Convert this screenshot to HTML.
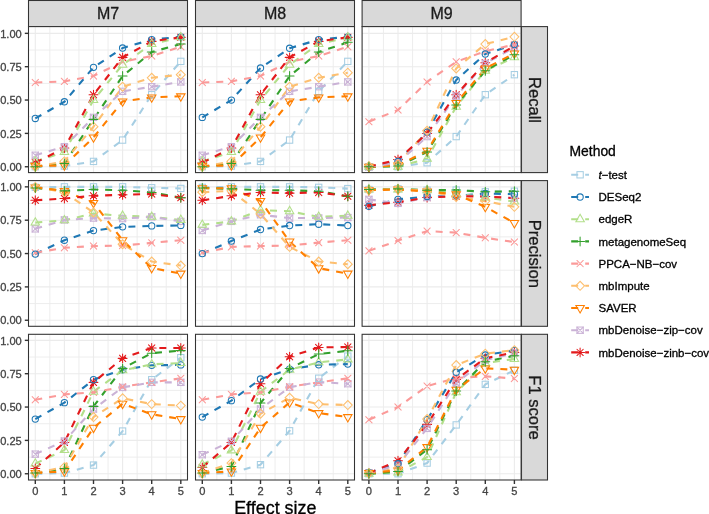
<!DOCTYPE html><html><head><meta charset="utf-8"><style>html,body{margin:0;padding:0;background:#fff;overflow:hidden}svg{display:block;will-change:transform}text{font-family:"Liberation Sans",sans-serif;stroke-width:0.3px;paint-order:stroke}</style></head><body>
<svg width="709" height="514" viewBox="0 0 709 514">
<rect width="709" height="514" fill="#fff"/>
<rect x="28.5" y="0.5" width="159" height="26.1" fill="#D9D9D9" stroke="#333333" stroke-width="1.07"/>
<text x="108" y="19.2" font-size="16" fill="#1A1A1A" stroke="#1A1A1A" text-anchor="middle">M7</text>
<rect x="195.5" y="0.5" width="159" height="26.1" fill="#D9D9D9" stroke="#333333" stroke-width="1.07"/>
<text x="275" y="19.2" font-size="16" fill="#1A1A1A" stroke="#1A1A1A" text-anchor="middle">M8</text>
<rect x="362.1" y="0.5" width="159" height="26.1" fill="#D9D9D9" stroke="#333333" stroke-width="1.07"/>
<text x="441.6" y="19.2" font-size="16" fill="#1A1A1A" stroke="#1A1A1A" text-anchor="middle">M9</text>
<rect x="521.5" y="26.6" width="26" height="146" fill="#D9D9D9" stroke="#333333" stroke-width="1.07"/>
<text transform="translate(534.5 99.6) rotate(90)" x="0.4" y="5.9" font-size="16.6" fill="#1A1A1A" stroke="#1A1A1A" text-anchor="middle">Recall</text>
<rect x="521.5" y="180.6" width="26" height="145.7" fill="#D9D9D9" stroke="#333333" stroke-width="1.07"/>
<text transform="translate(534.5 253.45) rotate(90)" x="0.4" y="5.9" font-size="16.6" fill="#1A1A1A" stroke="#1A1A1A" text-anchor="middle">Precision</text>
<rect x="521.5" y="334.3" width="26" height="145.7" fill="#D9D9D9" stroke="#333333" stroke-width="1.07"/>
<text transform="translate(534.5 407.15) rotate(90)" x="0.4" y="5.9" font-size="16.6" fill="#1A1A1A" stroke="#1A1A1A" text-anchor="middle">F1 score</text>
<g>
<rect x="28.5" y="26.6" width="159" height="146" fill="#fff"/>
<line x1="49.85" y1="26.6" x2="49.85" y2="172.6" stroke="#EBEBEB" stroke-width="0.9"/>
<line x1="78.95" y1="26.6" x2="78.95" y2="172.6" stroke="#EBEBEB" stroke-width="0.9"/>
<line x1="108.05" y1="26.6" x2="108.05" y2="172.6" stroke="#EBEBEB" stroke-width="0.9"/>
<line x1="137.15" y1="26.6" x2="137.15" y2="172.6" stroke="#EBEBEB" stroke-width="0.9"/>
<line x1="166.25" y1="26.6" x2="166.25" y2="172.6" stroke="#EBEBEB" stroke-width="0.9"/>
<line x1="28.5" y1="150.08" x2="187.5" y2="150.08" stroke="#EBEBEB" stroke-width="0.9"/>
<line x1="28.5" y1="116.72" x2="187.5" y2="116.72" stroke="#EBEBEB" stroke-width="0.9"/>
<line x1="28.5" y1="83.38" x2="187.5" y2="83.38" stroke="#EBEBEB" stroke-width="0.9"/>
<line x1="28.5" y1="50.03" x2="187.5" y2="50.03" stroke="#EBEBEB" stroke-width="0.9"/>
<line x1="35.3" y1="26.6" x2="35.3" y2="172.6" stroke="#EBEBEB" stroke-width="1.1"/>
<line x1="64.4" y1="26.6" x2="64.4" y2="172.6" stroke="#EBEBEB" stroke-width="1.1"/>
<line x1="93.5" y1="26.6" x2="93.5" y2="172.6" stroke="#EBEBEB" stroke-width="1.1"/>
<line x1="122.6" y1="26.6" x2="122.6" y2="172.6" stroke="#EBEBEB" stroke-width="1.1"/>
<line x1="151.7" y1="26.6" x2="151.7" y2="172.6" stroke="#EBEBEB" stroke-width="1.1"/>
<line x1="180.8" y1="26.6" x2="180.8" y2="172.6" stroke="#EBEBEB" stroke-width="1.1"/>
<line x1="28.5" y1="166.75" x2="187.5" y2="166.75" stroke="#EBEBEB" stroke-width="1.1"/>
<line x1="28.5" y1="133.4" x2="187.5" y2="133.4" stroke="#EBEBEB" stroke-width="1.1"/>
<line x1="28.5" y1="100.05" x2="187.5" y2="100.05" stroke="#EBEBEB" stroke-width="1.1"/>
<line x1="28.5" y1="66.7" x2="187.5" y2="66.7" stroke="#EBEBEB" stroke-width="1.1"/>
<line x1="28.5" y1="33.35" x2="187.5" y2="33.35" stroke="#EBEBEB" stroke-width="1.1"/>
<polyline points="35.3,166.75 64.4,166.08 93.5,161.41 122.6,140.07 151.7,94.71 180.8,61.36" fill="none" stroke="#A6CEE3" stroke-width="2.1" stroke-dasharray="7 7" stroke-linejoin="round"/>
<polyline points="35.3,118.46 64.4,101.78 93.5,67.37 122.6,48.02 151.7,39.62 180.8,36.82" fill="none" stroke="#1F78B4" stroke-width="2.1" stroke-dasharray="7 7" stroke-linejoin="round"/>
<polyline points="35.3,161.41 64.4,152.08 93.5,100.05 122.6,64.7 151.7,44.02 180.8,37.35" fill="none" stroke="#B2DF8A" stroke-width="2.1" stroke-dasharray="7 7" stroke-linejoin="round"/>
<polyline points="35.3,166.75 64.4,163.41 93.5,119.39 122.6,76.04 151.7,52.03 180.8,44.02" fill="none" stroke="#33A02C" stroke-width="2.1" stroke-dasharray="7 7" stroke-linejoin="round"/>
<polyline points="35.3,82.57 64.4,81.37 93.5,76.04 122.6,61.76 151.7,56.03 180.8,46.69" fill="none" stroke="#FB9A99" stroke-width="2.1" stroke-dasharray="7 7" stroke-linejoin="round"/>
<polyline points="35.3,166.75 64.4,161.41 93.5,126.73 122.6,86.71 151.7,77.77 180.8,74.7" fill="none" stroke="#FDBF6F" stroke-width="2.1" stroke-dasharray="7 7" stroke-linejoin="round"/>
<polyline points="35.3,166.08 64.4,165.42 93.5,137.4 122.6,101.38 151.7,97.38 180.8,96.31" fill="none" stroke="#FF7F00" stroke-width="2.1" stroke-dasharray="7 7" stroke-linejoin="round"/>
<polyline points="35.3,155.28 64.4,146.74 93.5,117.39 122.6,91.38 151.7,86.71 180.8,81.91" fill="none" stroke="#CAB2D6" stroke-width="2.1" stroke-dasharray="7 7" stroke-linejoin="round"/>
<polyline points="35.3,162.75 64.4,148.07 93.5,94.71 122.6,57.36 151.7,41.35 180.8,37.35" fill="none" stroke="#E31A1C" stroke-width="2.1" stroke-dasharray="7 7" stroke-linejoin="round"/>
<path d="M32.15 159.6L38.45 165.9M32.15 165.9L38.45 159.6M30.85 162.75H39.75M35.3 158.29V167.2" stroke="#E31A1C" stroke-width="1.05" fill="none" stroke-linecap="round"/>
<path d="M61.25 144.92L67.55 151.22M61.25 151.22L67.55 144.92M59.95 148.07H68.85M64.4 143.62V152.53" stroke="#E31A1C" stroke-width="1.05" fill="none" stroke-linecap="round"/>
<path d="M90.35 91.56L96.65 97.86M90.35 97.86L96.65 91.56M89.05 94.71H97.95M93.5 90.26V99.17" stroke="#E31A1C" stroke-width="1.05" fill="none" stroke-linecap="round"/>
<path d="M119.45 54.21L125.75 60.51M119.45 60.51L125.75 54.21M118.15 57.36H127.05M122.6 52.91V61.82" stroke="#E31A1C" stroke-width="1.05" fill="none" stroke-linecap="round"/>
<path d="M148.55 38.2L154.85 44.5M148.55 44.5L154.85 38.2M147.25 41.35H156.15M151.7 36.9V45.81" stroke="#E31A1C" stroke-width="1.05" fill="none" stroke-linecap="round"/>
<path d="M177.65 34.2L183.95 40.5M177.65 40.5L183.95 34.2M176.35 37.35H185.25M180.8 32.9V41.81" stroke="#E31A1C" stroke-width="1.05" fill="none" stroke-linecap="round"/>
<path d="M32.15 152.13L38.45 158.43M32.15 158.43L38.45 152.13" stroke="#CAB2D6" stroke-width="1.05" fill="none" stroke-linecap="round"/><rect x="32.15" y="152.13" width="6.3" height="6.3" stroke="#CAB2D6" stroke-width="1.05" fill="none" stroke-linecap="round"/>
<path d="M61.25 143.59L67.55 149.89M61.25 149.89L67.55 143.59" stroke="#CAB2D6" stroke-width="1.05" fill="none" stroke-linecap="round"/><rect x="61.25" y="143.59" width="6.3" height="6.3" stroke="#CAB2D6" stroke-width="1.05" fill="none" stroke-linecap="round"/>
<path d="M90.35 114.24L96.65 120.54M90.35 120.54L96.65 114.24" stroke="#CAB2D6" stroke-width="1.05" fill="none" stroke-linecap="round"/><rect x="90.35" y="114.24" width="6.3" height="6.3" stroke="#CAB2D6" stroke-width="1.05" fill="none" stroke-linecap="round"/>
<path d="M119.45 88.23L125.75 94.53M119.45 94.53L125.75 88.23" stroke="#CAB2D6" stroke-width="1.05" fill="none" stroke-linecap="round"/><rect x="119.45" y="88.23" width="6.3" height="6.3" stroke="#CAB2D6" stroke-width="1.05" fill="none" stroke-linecap="round"/>
<path d="M148.55 83.56L154.85 89.86M148.55 89.86L154.85 83.56" stroke="#CAB2D6" stroke-width="1.05" fill="none" stroke-linecap="round"/><rect x="148.55" y="83.56" width="6.3" height="6.3" stroke="#CAB2D6" stroke-width="1.05" fill="none" stroke-linecap="round"/>
<path d="M177.65 78.76L183.95 85.06M177.65 85.06L183.95 78.76" stroke="#CAB2D6" stroke-width="1.05" fill="none" stroke-linecap="round"/><rect x="177.65" y="78.76" width="6.3" height="6.3" stroke="#CAB2D6" stroke-width="1.05" fill="none" stroke-linecap="round"/>
<path d="M32.15 79.42L38.45 85.72M32.15 85.72L38.45 79.42" stroke="#FB9A99" stroke-width="1.05" fill="none" stroke-linecap="round"/>
<path d="M61.25 78.22L67.55 84.52M61.25 84.52L67.55 78.22" stroke="#FB9A99" stroke-width="1.05" fill="none" stroke-linecap="round"/>
<path d="M90.35 72.89L96.65 79.19M90.35 79.19L96.65 72.89" stroke="#FB9A99" stroke-width="1.05" fill="none" stroke-linecap="round"/>
<path d="M119.45 58.61L125.75 64.91M119.45 64.91L125.75 58.61" stroke="#FB9A99" stroke-width="1.05" fill="none" stroke-linecap="round"/>
<path d="M148.55 52.88L154.85 59.18M148.55 59.18L154.85 52.88" stroke="#FB9A99" stroke-width="1.05" fill="none" stroke-linecap="round"/>
<path d="M177.65 43.54L183.95 49.84M177.65 49.84L183.95 43.54" stroke="#FB9A99" stroke-width="1.05" fill="none" stroke-linecap="round"/>
<rect x="32.15" y="163.6" width="6.3" height="6.3" stroke="#A6CEE3" stroke-width="1.05" fill="none" stroke-linecap="round"/>
<rect x="61.25" y="162.93" width="6.3" height="6.3" stroke="#A6CEE3" stroke-width="1.05" fill="none" stroke-linecap="round"/>
<rect x="90.35" y="158.26" width="6.3" height="6.3" stroke="#A6CEE3" stroke-width="1.05" fill="none" stroke-linecap="round"/>
<rect x="119.45" y="136.92" width="6.3" height="6.3" stroke="#A6CEE3" stroke-width="1.05" fill="none" stroke-linecap="round"/>
<rect x="148.55" y="91.56" width="6.3" height="6.3" stroke="#A6CEE3" stroke-width="1.05" fill="none" stroke-linecap="round"/>
<rect x="177.65" y="58.21" width="6.3" height="6.3" stroke="#A6CEE3" stroke-width="1.05" fill="none" stroke-linecap="round"/>
<circle cx="35.3" cy="118.46" r="3.15" stroke="#1F78B4" stroke-width="1.05" fill="none" stroke-linecap="round"/>
<circle cx="64.4" cy="101.78" r="3.15" stroke="#1F78B4" stroke-width="1.05" fill="none" stroke-linecap="round"/>
<circle cx="93.5" cy="67.37" r="3.15" stroke="#1F78B4" stroke-width="1.05" fill="none" stroke-linecap="round"/>
<circle cx="122.6" cy="48.02" r="3.15" stroke="#1F78B4" stroke-width="1.05" fill="none" stroke-linecap="round"/>
<circle cx="151.7" cy="39.62" r="3.15" stroke="#1F78B4" stroke-width="1.05" fill="none" stroke-linecap="round"/>
<circle cx="180.8" cy="36.82" r="3.15" stroke="#1F78B4" stroke-width="1.05" fill="none" stroke-linecap="round"/>
<polygon points="35.3,156.52 39.54,163.86 31.06,163.86" stroke="#B2DF8A" stroke-width="1.05" fill="none" stroke-linecap="round"/>
<polygon points="64.4,147.18 68.64,154.53 60.16,154.53" stroke="#B2DF8A" stroke-width="1.05" fill="none" stroke-linecap="round"/>
<polygon points="93.5,95.15 97.74,102.5 89.26,102.5" stroke="#B2DF8A" stroke-width="1.05" fill="none" stroke-linecap="round"/>
<polygon points="122.6,59.8 126.84,67.15 118.36,67.15" stroke="#B2DF8A" stroke-width="1.05" fill="none" stroke-linecap="round"/>
<polygon points="151.7,39.12 155.94,46.47 147.46,46.47" stroke="#B2DF8A" stroke-width="1.05" fill="none" stroke-linecap="round"/>
<polygon points="180.8,32.45 185.04,39.8 176.56,39.8" stroke="#B2DF8A" stroke-width="1.05" fill="none" stroke-linecap="round"/>
<polygon points="35.3,170.98 39.54,163.63 31.06,163.63" stroke="#FF7F00" stroke-width="1.05" fill="none" stroke-linecap="round"/>
<polygon points="64.4,170.31 68.64,162.97 60.16,162.97" stroke="#FF7F00" stroke-width="1.05" fill="none" stroke-linecap="round"/>
<polygon points="93.5,142.3 97.74,134.95 89.26,134.95" stroke="#FF7F00" stroke-width="1.05" fill="none" stroke-linecap="round"/>
<polygon points="122.6,106.28 126.84,98.93 118.36,98.93" stroke="#FF7F00" stroke-width="1.05" fill="none" stroke-linecap="round"/>
<polygon points="151.7,102.28 155.94,94.93 147.46,94.93" stroke="#FF7F00" stroke-width="1.05" fill="none" stroke-linecap="round"/>
<polygon points="180.8,101.21 185.04,93.87 176.56,93.87" stroke="#FF7F00" stroke-width="1.05" fill="none" stroke-linecap="round"/>
<polygon points="30.85,166.75 35.3,162.3 39.75,166.75 35.3,171.2" stroke="#FDBF6F" stroke-width="1.05" fill="none" stroke-linecap="round"/>
<polygon points="59.95,161.41 64.4,156.96 68.85,161.41 64.4,165.87" stroke="#FDBF6F" stroke-width="1.05" fill="none" stroke-linecap="round"/>
<polygon points="89.05,126.73 93.5,122.28 97.95,126.73 93.5,131.18" stroke="#FDBF6F" stroke-width="1.05" fill="none" stroke-linecap="round"/>
<polygon points="118.15,86.71 122.6,82.26 127.05,86.71 122.6,91.16" stroke="#FDBF6F" stroke-width="1.05" fill="none" stroke-linecap="round"/>
<polygon points="147.25,77.77 151.7,73.32 156.15,77.77 151.7,82.23" stroke="#FDBF6F" stroke-width="1.05" fill="none" stroke-linecap="round"/>
<polygon points="176.35,74.7 180.8,70.25 185.25,74.7 180.8,79.16" stroke="#FDBF6F" stroke-width="1.05" fill="none" stroke-linecap="round"/>
<path d="M30.85 166.75H39.75M35.3 162.3V171.2" stroke="#33A02C" stroke-width="1.05" fill="none" stroke-linecap="round"/>
<path d="M59.95 163.41H68.85M64.4 158.96V167.87" stroke="#33A02C" stroke-width="1.05" fill="none" stroke-linecap="round"/>
<path d="M89.05 119.39H97.95M93.5 114.94V123.85" stroke="#33A02C" stroke-width="1.05" fill="none" stroke-linecap="round"/>
<path d="M118.15 76.04H127.05M122.6 71.58V80.49" stroke="#33A02C" stroke-width="1.05" fill="none" stroke-linecap="round"/>
<path d="M147.25 52.03H156.15M151.7 47.57V56.48" stroke="#33A02C" stroke-width="1.05" fill="none" stroke-linecap="round"/>
<path d="M176.35 44.02H185.25M180.8 39.57V48.48" stroke="#33A02C" stroke-width="1.05" fill="none" stroke-linecap="round"/>
<rect x="28.5" y="26.6" width="159" height="146" fill="none" stroke="#333333" stroke-width="1.07"/>
</g>
<g>
<rect x="195.5" y="26.6" width="159" height="146" fill="#fff"/>
<line x1="216.85" y1="26.6" x2="216.85" y2="172.6" stroke="#EBEBEB" stroke-width="0.9"/>
<line x1="245.95" y1="26.6" x2="245.95" y2="172.6" stroke="#EBEBEB" stroke-width="0.9"/>
<line x1="275.05" y1="26.6" x2="275.05" y2="172.6" stroke="#EBEBEB" stroke-width="0.9"/>
<line x1="304.15" y1="26.6" x2="304.15" y2="172.6" stroke="#EBEBEB" stroke-width="0.9"/>
<line x1="333.25" y1="26.6" x2="333.25" y2="172.6" stroke="#EBEBEB" stroke-width="0.9"/>
<line x1="195.5" y1="150.08" x2="354.5" y2="150.08" stroke="#EBEBEB" stroke-width="0.9"/>
<line x1="195.5" y1="116.72" x2="354.5" y2="116.72" stroke="#EBEBEB" stroke-width="0.9"/>
<line x1="195.5" y1="83.38" x2="354.5" y2="83.38" stroke="#EBEBEB" stroke-width="0.9"/>
<line x1="195.5" y1="50.03" x2="354.5" y2="50.03" stroke="#EBEBEB" stroke-width="0.9"/>
<line x1="202.3" y1="26.6" x2="202.3" y2="172.6" stroke="#EBEBEB" stroke-width="1.1"/>
<line x1="231.4" y1="26.6" x2="231.4" y2="172.6" stroke="#EBEBEB" stroke-width="1.1"/>
<line x1="260.5" y1="26.6" x2="260.5" y2="172.6" stroke="#EBEBEB" stroke-width="1.1"/>
<line x1="289.6" y1="26.6" x2="289.6" y2="172.6" stroke="#EBEBEB" stroke-width="1.1"/>
<line x1="318.7" y1="26.6" x2="318.7" y2="172.6" stroke="#EBEBEB" stroke-width="1.1"/>
<line x1="347.8" y1="26.6" x2="347.8" y2="172.6" stroke="#EBEBEB" stroke-width="1.1"/>
<line x1="195.5" y1="166.75" x2="354.5" y2="166.75" stroke="#EBEBEB" stroke-width="1.1"/>
<line x1="195.5" y1="133.4" x2="354.5" y2="133.4" stroke="#EBEBEB" stroke-width="1.1"/>
<line x1="195.5" y1="100.05" x2="354.5" y2="100.05" stroke="#EBEBEB" stroke-width="1.1"/>
<line x1="195.5" y1="66.7" x2="354.5" y2="66.7" stroke="#EBEBEB" stroke-width="1.1"/>
<line x1="195.5" y1="33.35" x2="354.5" y2="33.35" stroke="#EBEBEB" stroke-width="1.1"/>
<polyline points="202.3,166.75 231.4,166.08 260.5,161.41 289.6,140.07 318.7,91.38 347.8,61.36" fill="none" stroke="#A6CEE3" stroke-width="2.1" stroke-dasharray="7 7" stroke-linejoin="round"/>
<polyline points="202.3,117.39 231.4,100.05 260.5,68.03 289.6,48.29 318.7,39.62 347.8,36.82" fill="none" stroke="#1F78B4" stroke-width="2.1" stroke-dasharray="7 7" stroke-linejoin="round"/>
<polyline points="202.3,161.41 231.4,152.08 260.5,100.05 289.6,64.7 318.7,44.02 347.8,37.35" fill="none" stroke="#B2DF8A" stroke-width="2.1" stroke-dasharray="7 7" stroke-linejoin="round"/>
<polyline points="202.3,166.75 231.4,163.41 260.5,119.39 289.6,76.04 318.7,52.03 347.8,42.29" fill="none" stroke="#33A02C" stroke-width="2.1" stroke-dasharray="7 7" stroke-linejoin="round"/>
<polyline points="202.3,82.57 231.4,81.37 260.5,76.04 289.6,61.76 318.7,56.03 347.8,46.69" fill="none" stroke="#FB9A99" stroke-width="2.1" stroke-dasharray="7 7" stroke-linejoin="round"/>
<polyline points="202.3,166.75 231.4,161.41 260.5,126.73 289.6,86.71 318.7,77.77 347.8,72.7" fill="none" stroke="#FDBF6F" stroke-width="2.1" stroke-dasharray="7 7" stroke-linejoin="round"/>
<polyline points="202.3,166.08 231.4,165.42 260.5,137.4 289.6,101.38 318.7,97.38 347.8,96.31" fill="none" stroke="#FF7F00" stroke-width="2.1" stroke-dasharray="7 7" stroke-linejoin="round"/>
<polyline points="202.3,155.28 231.4,146.74 260.5,117.39 289.6,91.38 318.7,86.71 347.8,81.91" fill="none" stroke="#CAB2D6" stroke-width="2.1" stroke-dasharray="7 7" stroke-linejoin="round"/>
<polyline points="202.3,162.75 231.4,148.07 260.5,94.71 289.6,57.36 318.7,41.35 347.8,37.35" fill="none" stroke="#E31A1C" stroke-width="2.1" stroke-dasharray="7 7" stroke-linejoin="round"/>
<path d="M199.15 159.6L205.45 165.9M199.15 165.9L205.45 159.6M197.85 162.75H206.75M202.3 158.29V167.2" stroke="#E31A1C" stroke-width="1.05" fill="none" stroke-linecap="round"/>
<path d="M228.25 144.92L234.55 151.22M228.25 151.22L234.55 144.92M226.95 148.07H235.85M231.4 143.62V152.53" stroke="#E31A1C" stroke-width="1.05" fill="none" stroke-linecap="round"/>
<path d="M257.35 91.56L263.65 97.86M257.35 97.86L263.65 91.56M256.05 94.71H264.95M260.5 90.26V99.17" stroke="#E31A1C" stroke-width="1.05" fill="none" stroke-linecap="round"/>
<path d="M286.45 54.21L292.75 60.51M286.45 60.51L292.75 54.21M285.15 57.36H294.05M289.6 52.91V61.82" stroke="#E31A1C" stroke-width="1.05" fill="none" stroke-linecap="round"/>
<path d="M315.55 38.2L321.85 44.5M315.55 44.5L321.85 38.2M314.25 41.35H323.15M318.7 36.9V45.81" stroke="#E31A1C" stroke-width="1.05" fill="none" stroke-linecap="round"/>
<path d="M344.65 34.2L350.95 40.5M344.65 40.5L350.95 34.2M343.35 37.35H352.25M347.8 32.9V41.81" stroke="#E31A1C" stroke-width="1.05" fill="none" stroke-linecap="round"/>
<path d="M199.15 152.13L205.45 158.43M199.15 158.43L205.45 152.13" stroke="#CAB2D6" stroke-width="1.05" fill="none" stroke-linecap="round"/><rect x="199.15" y="152.13" width="6.3" height="6.3" stroke="#CAB2D6" stroke-width="1.05" fill="none" stroke-linecap="round"/>
<path d="M228.25 143.59L234.55 149.89M228.25 149.89L234.55 143.59" stroke="#CAB2D6" stroke-width="1.05" fill="none" stroke-linecap="round"/><rect x="228.25" y="143.59" width="6.3" height="6.3" stroke="#CAB2D6" stroke-width="1.05" fill="none" stroke-linecap="round"/>
<path d="M257.35 114.24L263.65 120.54M257.35 120.54L263.65 114.24" stroke="#CAB2D6" stroke-width="1.05" fill="none" stroke-linecap="round"/><rect x="257.35" y="114.24" width="6.3" height="6.3" stroke="#CAB2D6" stroke-width="1.05" fill="none" stroke-linecap="round"/>
<path d="M286.45 88.23L292.75 94.53M286.45 94.53L292.75 88.23" stroke="#CAB2D6" stroke-width="1.05" fill="none" stroke-linecap="round"/><rect x="286.45" y="88.23" width="6.3" height="6.3" stroke="#CAB2D6" stroke-width="1.05" fill="none" stroke-linecap="round"/>
<path d="M315.55 83.56L321.85 89.86M315.55 89.86L321.85 83.56" stroke="#CAB2D6" stroke-width="1.05" fill="none" stroke-linecap="round"/><rect x="315.55" y="83.56" width="6.3" height="6.3" stroke="#CAB2D6" stroke-width="1.05" fill="none" stroke-linecap="round"/>
<path d="M344.65 78.76L350.95 85.06M344.65 85.06L350.95 78.76" stroke="#CAB2D6" stroke-width="1.05" fill="none" stroke-linecap="round"/><rect x="344.65" y="78.76" width="6.3" height="6.3" stroke="#CAB2D6" stroke-width="1.05" fill="none" stroke-linecap="round"/>
<path d="M199.15 79.42L205.45 85.72M199.15 85.72L205.45 79.42" stroke="#FB9A99" stroke-width="1.05" fill="none" stroke-linecap="round"/>
<path d="M228.25 78.22L234.55 84.52M228.25 84.52L234.55 78.22" stroke="#FB9A99" stroke-width="1.05" fill="none" stroke-linecap="round"/>
<path d="M257.35 72.89L263.65 79.19M257.35 79.19L263.65 72.89" stroke="#FB9A99" stroke-width="1.05" fill="none" stroke-linecap="round"/>
<path d="M286.45 58.61L292.75 64.91M286.45 64.91L292.75 58.61" stroke="#FB9A99" stroke-width="1.05" fill="none" stroke-linecap="round"/>
<path d="M315.55 52.88L321.85 59.18M315.55 59.18L321.85 52.88" stroke="#FB9A99" stroke-width="1.05" fill="none" stroke-linecap="round"/>
<path d="M344.65 43.54L350.95 49.84M344.65 49.84L350.95 43.54" stroke="#FB9A99" stroke-width="1.05" fill="none" stroke-linecap="round"/>
<rect x="199.15" y="163.6" width="6.3" height="6.3" stroke="#A6CEE3" stroke-width="1.05" fill="none" stroke-linecap="round"/>
<rect x="228.25" y="162.93" width="6.3" height="6.3" stroke="#A6CEE3" stroke-width="1.05" fill="none" stroke-linecap="round"/>
<rect x="257.35" y="158.26" width="6.3" height="6.3" stroke="#A6CEE3" stroke-width="1.05" fill="none" stroke-linecap="round"/>
<rect x="286.45" y="136.92" width="6.3" height="6.3" stroke="#A6CEE3" stroke-width="1.05" fill="none" stroke-linecap="round"/>
<rect x="315.55" y="88.23" width="6.3" height="6.3" stroke="#A6CEE3" stroke-width="1.05" fill="none" stroke-linecap="round"/>
<rect x="344.65" y="58.21" width="6.3" height="6.3" stroke="#A6CEE3" stroke-width="1.05" fill="none" stroke-linecap="round"/>
<circle cx="202.3" cy="117.39" r="3.15" stroke="#1F78B4" stroke-width="1.05" fill="none" stroke-linecap="round"/>
<circle cx="231.4" cy="100.05" r="3.15" stroke="#1F78B4" stroke-width="1.05" fill="none" stroke-linecap="round"/>
<circle cx="260.5" cy="68.03" r="3.15" stroke="#1F78B4" stroke-width="1.05" fill="none" stroke-linecap="round"/>
<circle cx="289.6" cy="48.29" r="3.15" stroke="#1F78B4" stroke-width="1.05" fill="none" stroke-linecap="round"/>
<circle cx="318.7" cy="39.62" r="3.15" stroke="#1F78B4" stroke-width="1.05" fill="none" stroke-linecap="round"/>
<circle cx="347.8" cy="36.82" r="3.15" stroke="#1F78B4" stroke-width="1.05" fill="none" stroke-linecap="round"/>
<polygon points="202.3,156.52 206.54,163.86 198.06,163.86" stroke="#B2DF8A" stroke-width="1.05" fill="none" stroke-linecap="round"/>
<polygon points="231.4,147.18 235.64,154.53 227.16,154.53" stroke="#B2DF8A" stroke-width="1.05" fill="none" stroke-linecap="round"/>
<polygon points="260.5,95.15 264.74,102.5 256.26,102.5" stroke="#B2DF8A" stroke-width="1.05" fill="none" stroke-linecap="round"/>
<polygon points="289.6,59.8 293.84,67.15 285.36,67.15" stroke="#B2DF8A" stroke-width="1.05" fill="none" stroke-linecap="round"/>
<polygon points="318.7,39.12 322.94,46.47 314.46,46.47" stroke="#B2DF8A" stroke-width="1.05" fill="none" stroke-linecap="round"/>
<polygon points="347.8,32.45 352.04,39.8 343.56,39.8" stroke="#B2DF8A" stroke-width="1.05" fill="none" stroke-linecap="round"/>
<polygon points="202.3,170.98 206.54,163.63 198.06,163.63" stroke="#FF7F00" stroke-width="1.05" fill="none" stroke-linecap="round"/>
<polygon points="231.4,170.31 235.64,162.97 227.16,162.97" stroke="#FF7F00" stroke-width="1.05" fill="none" stroke-linecap="round"/>
<polygon points="260.5,142.3 264.74,134.95 256.26,134.95" stroke="#FF7F00" stroke-width="1.05" fill="none" stroke-linecap="round"/>
<polygon points="289.6,106.28 293.84,98.93 285.36,98.93" stroke="#FF7F00" stroke-width="1.05" fill="none" stroke-linecap="round"/>
<polygon points="318.7,102.28 322.94,94.93 314.46,94.93" stroke="#FF7F00" stroke-width="1.05" fill="none" stroke-linecap="round"/>
<polygon points="347.8,101.21 352.04,93.87 343.56,93.87" stroke="#FF7F00" stroke-width="1.05" fill="none" stroke-linecap="round"/>
<polygon points="197.85,166.75 202.3,162.3 206.75,166.75 202.3,171.2" stroke="#FDBF6F" stroke-width="1.05" fill="none" stroke-linecap="round"/>
<polygon points="226.95,161.41 231.4,156.96 235.85,161.41 231.4,165.87" stroke="#FDBF6F" stroke-width="1.05" fill="none" stroke-linecap="round"/>
<polygon points="256.05,126.73 260.5,122.28 264.95,126.73 260.5,131.18" stroke="#FDBF6F" stroke-width="1.05" fill="none" stroke-linecap="round"/>
<polygon points="285.15,86.71 289.6,82.26 294.05,86.71 289.6,91.16" stroke="#FDBF6F" stroke-width="1.05" fill="none" stroke-linecap="round"/>
<polygon points="314.25,77.77 318.7,73.32 323.15,77.77 318.7,82.23" stroke="#FDBF6F" stroke-width="1.05" fill="none" stroke-linecap="round"/>
<polygon points="343.35,72.7 347.8,68.25 352.25,72.7 347.8,77.16" stroke="#FDBF6F" stroke-width="1.05" fill="none" stroke-linecap="round"/>
<path d="M197.85 166.75H206.75M202.3 162.3V171.2" stroke="#33A02C" stroke-width="1.05" fill="none" stroke-linecap="round"/>
<path d="M226.95 163.41H235.85M231.4 158.96V167.87" stroke="#33A02C" stroke-width="1.05" fill="none" stroke-linecap="round"/>
<path d="M256.05 119.39H264.95M260.5 114.94V123.85" stroke="#33A02C" stroke-width="1.05" fill="none" stroke-linecap="round"/>
<path d="M285.15 76.04H294.05M289.6 71.58V80.49" stroke="#33A02C" stroke-width="1.05" fill="none" stroke-linecap="round"/>
<path d="M314.25 52.03H323.15M318.7 47.57V56.48" stroke="#33A02C" stroke-width="1.05" fill="none" stroke-linecap="round"/>
<path d="M343.35 42.29H352.25M347.8 37.83V46.74" stroke="#33A02C" stroke-width="1.05" fill="none" stroke-linecap="round"/>
<rect x="195.5" y="26.6" width="159" height="146" fill="none" stroke="#333333" stroke-width="1.07"/>
</g>
<g>
<rect x="362.1" y="26.6" width="159" height="146" fill="#fff"/>
<line x1="383.45" y1="26.6" x2="383.45" y2="172.6" stroke="#EBEBEB" stroke-width="0.9"/>
<line x1="412.55" y1="26.6" x2="412.55" y2="172.6" stroke="#EBEBEB" stroke-width="0.9"/>
<line x1="441.65" y1="26.6" x2="441.65" y2="172.6" stroke="#EBEBEB" stroke-width="0.9"/>
<line x1="470.75" y1="26.6" x2="470.75" y2="172.6" stroke="#EBEBEB" stroke-width="0.9"/>
<line x1="499.85" y1="26.6" x2="499.85" y2="172.6" stroke="#EBEBEB" stroke-width="0.9"/>
<line x1="362.1" y1="150.08" x2="521.1" y2="150.08" stroke="#EBEBEB" stroke-width="0.9"/>
<line x1="362.1" y1="116.72" x2="521.1" y2="116.72" stroke="#EBEBEB" stroke-width="0.9"/>
<line x1="362.1" y1="83.38" x2="521.1" y2="83.38" stroke="#EBEBEB" stroke-width="0.9"/>
<line x1="362.1" y1="50.03" x2="521.1" y2="50.03" stroke="#EBEBEB" stroke-width="0.9"/>
<line x1="368.9" y1="26.6" x2="368.9" y2="172.6" stroke="#EBEBEB" stroke-width="1.1"/>
<line x1="398" y1="26.6" x2="398" y2="172.6" stroke="#EBEBEB" stroke-width="1.1"/>
<line x1="427.1" y1="26.6" x2="427.1" y2="172.6" stroke="#EBEBEB" stroke-width="1.1"/>
<line x1="456.2" y1="26.6" x2="456.2" y2="172.6" stroke="#EBEBEB" stroke-width="1.1"/>
<line x1="485.3" y1="26.6" x2="485.3" y2="172.6" stroke="#EBEBEB" stroke-width="1.1"/>
<line x1="514.4" y1="26.6" x2="514.4" y2="172.6" stroke="#EBEBEB" stroke-width="1.1"/>
<line x1="362.1" y1="166.75" x2="521.1" y2="166.75" stroke="#EBEBEB" stroke-width="1.1"/>
<line x1="362.1" y1="133.4" x2="521.1" y2="133.4" stroke="#EBEBEB" stroke-width="1.1"/>
<line x1="362.1" y1="100.05" x2="521.1" y2="100.05" stroke="#EBEBEB" stroke-width="1.1"/>
<line x1="362.1" y1="66.7" x2="521.1" y2="66.7" stroke="#EBEBEB" stroke-width="1.1"/>
<line x1="362.1" y1="33.35" x2="521.1" y2="33.35" stroke="#EBEBEB" stroke-width="1.1"/>
<polyline points="368.9,166.75 398,166.75 427.1,162.75 456.2,136.6 485.3,94.71 514.4,74.7" fill="none" stroke="#A6CEE3" stroke-width="2.1" stroke-dasharray="7 7" stroke-linejoin="round"/>
<polyline points="368.9,166.75 398,161.41 427.1,132.07 456.2,80.04 485.3,54.03 514.4,44.56" fill="none" stroke="#1F78B4" stroke-width="2.1" stroke-dasharray="7 7" stroke-linejoin="round"/>
<polyline points="368.9,166.75 398,166.75 427.1,158.75 456.2,106.72 485.3,70.7 514.4,57.36" fill="none" stroke="#B2DF8A" stroke-width="2.1" stroke-dasharray="7 7" stroke-linejoin="round"/>
<polyline points="368.9,166.75 398,166.08 427.1,152.08 456.2,104.99 485.3,70.7 514.4,54.69" fill="none" stroke="#33A02C" stroke-width="2.1" stroke-dasharray="7 7" stroke-linejoin="round"/>
<polyline points="368.9,121.66 398,110.06 427.1,81.91 456.2,61.76 485.3,51.23 514.4,44.56" fill="none" stroke="#FB9A99" stroke-width="2.1" stroke-dasharray="7 7" stroke-linejoin="round"/>
<polyline points="368.9,166.08 398,164.08 427.1,130.73 456.2,68.43 485.3,44.02 514.4,36.82" fill="none" stroke="#FDBF6F" stroke-width="2.1" stroke-dasharray="7 7" stroke-linejoin="round"/>
<polyline points="368.9,166.75 398,165.42 427.1,150.74 456.2,102.98 485.3,68.43 514.4,53.36" fill="none" stroke="#FF7F00" stroke-width="2.1" stroke-dasharray="7 7" stroke-linejoin="round"/>
<polyline points="368.9,166.75 398,162.75 427.1,136.6 456.2,96.05 485.3,63.36 514.4,47.49" fill="none" stroke="#CAB2D6" stroke-width="2.1" stroke-dasharray="7 7" stroke-linejoin="round"/>
<polyline points="368.9,166.75 398,159.55 427.1,133.4 456.2,94.71 485.3,62.7 514.4,46.02" fill="none" stroke="#E31A1C" stroke-width="2.1" stroke-dasharray="7 7" stroke-linejoin="round"/>
<path d="M365.75 163.6L372.05 169.9M365.75 169.9L372.05 163.6M364.45 166.75H373.35M368.9 162.3V171.2" stroke="#E31A1C" stroke-width="1.05" fill="none" stroke-linecap="round"/>
<path d="M394.85 156.4L401.15 162.7M394.85 162.7L401.15 156.4M393.55 159.55H402.45M398 155.09V164" stroke="#E31A1C" stroke-width="1.05" fill="none" stroke-linecap="round"/>
<path d="M423.95 130.25L430.25 136.55M423.95 136.55L430.25 130.25M422.65 133.4H431.55M427.1 128.95V137.85" stroke="#E31A1C" stroke-width="1.05" fill="none" stroke-linecap="round"/>
<path d="M453.05 91.56L459.35 97.86M453.05 97.86L459.35 91.56M451.75 94.71H460.65M456.2 90.26V99.17" stroke="#E31A1C" stroke-width="1.05" fill="none" stroke-linecap="round"/>
<path d="M482.15 59.55L488.45 65.85M482.15 65.85L488.45 59.55M480.85 62.7H489.75M485.3 58.24V67.15" stroke="#E31A1C" stroke-width="1.05" fill="none" stroke-linecap="round"/>
<path d="M511.25 42.87L517.55 49.17M511.25 49.17L517.55 42.87M509.95 46.02H518.85M514.4 41.57V50.48" stroke="#E31A1C" stroke-width="1.05" fill="none" stroke-linecap="round"/>
<path d="M365.75 163.6L372.05 169.9M365.75 169.9L372.05 163.6" stroke="#CAB2D6" stroke-width="1.05" fill="none" stroke-linecap="round"/><rect x="365.75" y="163.6" width="6.3" height="6.3" stroke="#CAB2D6" stroke-width="1.05" fill="none" stroke-linecap="round"/>
<path d="M394.85 159.6L401.15 165.9M394.85 165.9L401.15 159.6" stroke="#CAB2D6" stroke-width="1.05" fill="none" stroke-linecap="round"/><rect x="394.85" y="159.6" width="6.3" height="6.3" stroke="#CAB2D6" stroke-width="1.05" fill="none" stroke-linecap="round"/>
<path d="M423.95 133.45L430.25 139.75M423.95 139.75L430.25 133.45" stroke="#CAB2D6" stroke-width="1.05" fill="none" stroke-linecap="round"/><rect x="423.95" y="133.45" width="6.3" height="6.3" stroke="#CAB2D6" stroke-width="1.05" fill="none" stroke-linecap="round"/>
<path d="M453.05 92.9L459.35 99.2M453.05 99.2L459.35 92.9" stroke="#CAB2D6" stroke-width="1.05" fill="none" stroke-linecap="round"/><rect x="453.05" y="92.9" width="6.3" height="6.3" stroke="#CAB2D6" stroke-width="1.05" fill="none" stroke-linecap="round"/>
<path d="M482.15 60.21L488.45 66.52M482.15 66.52L488.45 60.21" stroke="#CAB2D6" stroke-width="1.05" fill="none" stroke-linecap="round"/><rect x="482.15" y="60.21" width="6.3" height="6.3" stroke="#CAB2D6" stroke-width="1.05" fill="none" stroke-linecap="round"/>
<path d="M511.25 44.34L517.55 50.64M511.25 50.64L517.55 44.34" stroke="#CAB2D6" stroke-width="1.05" fill="none" stroke-linecap="round"/><rect x="511.25" y="44.34" width="6.3" height="6.3" stroke="#CAB2D6" stroke-width="1.05" fill="none" stroke-linecap="round"/>
<path d="M365.75 118.51L372.05 124.81M365.75 124.81L372.05 118.51" stroke="#FB9A99" stroke-width="1.05" fill="none" stroke-linecap="round"/>
<path d="M394.85 106.91L401.15 113.21M394.85 113.21L401.15 106.91" stroke="#FB9A99" stroke-width="1.05" fill="none" stroke-linecap="round"/>
<path d="M423.95 78.76L430.25 85.06M423.95 85.06L430.25 78.76" stroke="#FB9A99" stroke-width="1.05" fill="none" stroke-linecap="round"/>
<path d="M453.05 58.61L459.35 64.91M453.05 64.91L459.35 58.61" stroke="#FB9A99" stroke-width="1.05" fill="none" stroke-linecap="round"/>
<path d="M482.15 48.08L488.45 54.38M482.15 54.38L488.45 48.08" stroke="#FB9A99" stroke-width="1.05" fill="none" stroke-linecap="round"/>
<path d="M511.25 41.41L517.55 47.71M511.25 47.71L517.55 41.41" stroke="#FB9A99" stroke-width="1.05" fill="none" stroke-linecap="round"/>
<rect x="365.75" y="163.6" width="6.3" height="6.3" stroke="#A6CEE3" stroke-width="1.05" fill="none" stroke-linecap="round"/>
<rect x="394.85" y="163.6" width="6.3" height="6.3" stroke="#A6CEE3" stroke-width="1.05" fill="none" stroke-linecap="round"/>
<rect x="423.95" y="159.6" width="6.3" height="6.3" stroke="#A6CEE3" stroke-width="1.05" fill="none" stroke-linecap="round"/>
<rect x="453.05" y="133.45" width="6.3" height="6.3" stroke="#A6CEE3" stroke-width="1.05" fill="none" stroke-linecap="round"/>
<rect x="482.15" y="91.56" width="6.3" height="6.3" stroke="#A6CEE3" stroke-width="1.05" fill="none" stroke-linecap="round"/>
<rect x="511.25" y="71.55" width="6.3" height="6.3" stroke="#A6CEE3" stroke-width="1.05" fill="none" stroke-linecap="round"/>
<circle cx="368.9" cy="166.75" r="3.15" stroke="#1F78B4" stroke-width="1.05" fill="none" stroke-linecap="round"/>
<circle cx="398" cy="161.41" r="3.15" stroke="#1F78B4" stroke-width="1.05" fill="none" stroke-linecap="round"/>
<circle cx="427.1" cy="132.07" r="3.15" stroke="#1F78B4" stroke-width="1.05" fill="none" stroke-linecap="round"/>
<circle cx="456.2" cy="80.04" r="3.15" stroke="#1F78B4" stroke-width="1.05" fill="none" stroke-linecap="round"/>
<circle cx="485.3" cy="54.03" r="3.15" stroke="#1F78B4" stroke-width="1.05" fill="none" stroke-linecap="round"/>
<circle cx="514.4" cy="44.56" r="3.15" stroke="#1F78B4" stroke-width="1.05" fill="none" stroke-linecap="round"/>
<polygon points="368.9,161.85 373.14,169.2 364.66,169.2" stroke="#B2DF8A" stroke-width="1.05" fill="none" stroke-linecap="round"/>
<polygon points="398,161.85 402.24,169.2 393.76,169.2" stroke="#B2DF8A" stroke-width="1.05" fill="none" stroke-linecap="round"/>
<polygon points="427.1,153.85 431.34,161.2 422.86,161.2" stroke="#B2DF8A" stroke-width="1.05" fill="none" stroke-linecap="round"/>
<polygon points="456.2,101.82 460.44,109.17 451.96,109.17" stroke="#B2DF8A" stroke-width="1.05" fill="none" stroke-linecap="round"/>
<polygon points="485.3,65.8 489.54,73.15 481.06,73.15" stroke="#B2DF8A" stroke-width="1.05" fill="none" stroke-linecap="round"/>
<polygon points="514.4,52.46 518.64,59.81 510.16,59.81" stroke="#B2DF8A" stroke-width="1.05" fill="none" stroke-linecap="round"/>
<polygon points="368.9,171.65 373.14,164.3 364.66,164.3" stroke="#FF7F00" stroke-width="1.05" fill="none" stroke-linecap="round"/>
<polygon points="398,170.31 402.24,162.97 393.76,162.97" stroke="#FF7F00" stroke-width="1.05" fill="none" stroke-linecap="round"/>
<polygon points="427.1,155.64 431.34,148.29 422.86,148.29" stroke="#FF7F00" stroke-width="1.05" fill="none" stroke-linecap="round"/>
<polygon points="456.2,107.88 460.44,100.54 451.96,100.54" stroke="#FF7F00" stroke-width="1.05" fill="none" stroke-linecap="round"/>
<polygon points="485.3,73.33 489.54,65.98 481.06,65.98" stroke="#FF7F00" stroke-width="1.05" fill="none" stroke-linecap="round"/>
<polygon points="514.4,58.26 518.64,50.91 510.16,50.91" stroke="#FF7F00" stroke-width="1.05" fill="none" stroke-linecap="round"/>
<polygon points="364.45,166.08 368.9,161.63 373.35,166.08 368.9,170.54" stroke="#FDBF6F" stroke-width="1.05" fill="none" stroke-linecap="round"/>
<polygon points="393.55,164.08 398,159.63 402.45,164.08 398,168.54" stroke="#FDBF6F" stroke-width="1.05" fill="none" stroke-linecap="round"/>
<polygon points="422.65,130.73 427.1,126.28 431.55,130.73 427.1,135.19" stroke="#FDBF6F" stroke-width="1.05" fill="none" stroke-linecap="round"/>
<polygon points="451.75,68.43 456.2,63.98 460.65,68.43 456.2,72.89" stroke="#FDBF6F" stroke-width="1.05" fill="none" stroke-linecap="round"/>
<polygon points="480.85,44.02 485.3,39.57 489.75,44.02 485.3,48.48" stroke="#FDBF6F" stroke-width="1.05" fill="none" stroke-linecap="round"/>
<polygon points="509.95,36.82 514.4,32.36 518.85,36.82 514.4,41.27" stroke="#FDBF6F" stroke-width="1.05" fill="none" stroke-linecap="round"/>
<path d="M364.45 166.75H373.35M368.9 162.3V171.2" stroke="#33A02C" stroke-width="1.05" fill="none" stroke-linecap="round"/>
<path d="M393.55 166.08H402.45M398 161.63V170.54" stroke="#33A02C" stroke-width="1.05" fill="none" stroke-linecap="round"/>
<path d="M422.65 152.08H431.55M427.1 147.62V156.53" stroke="#33A02C" stroke-width="1.05" fill="none" stroke-linecap="round"/>
<path d="M451.75 104.99H460.65M456.2 100.53V109.44" stroke="#33A02C" stroke-width="1.05" fill="none" stroke-linecap="round"/>
<path d="M480.85 70.7H489.75M485.3 66.25V75.16" stroke="#33A02C" stroke-width="1.05" fill="none" stroke-linecap="round"/>
<path d="M509.95 54.69H518.85M514.4 50.24V59.15" stroke="#33A02C" stroke-width="1.05" fill="none" stroke-linecap="round"/>
<rect x="362.1" y="26.6" width="159" height="146" fill="none" stroke="#333333" stroke-width="1.07"/>
</g>
<g>
<rect x="28.5" y="180.6" width="159" height="145.7" fill="#fff"/>
<line x1="49.85" y1="180.6" x2="49.85" y2="326.3" stroke="#EBEBEB" stroke-width="0.9"/>
<line x1="78.95" y1="180.6" x2="78.95" y2="326.3" stroke="#EBEBEB" stroke-width="0.9"/>
<line x1="108.05" y1="180.6" x2="108.05" y2="326.3" stroke="#EBEBEB" stroke-width="0.9"/>
<line x1="137.15" y1="180.6" x2="137.15" y2="326.3" stroke="#EBEBEB" stroke-width="0.9"/>
<line x1="166.25" y1="180.6" x2="166.25" y2="326.3" stroke="#EBEBEB" stroke-width="0.9"/>
<line x1="28.5" y1="303.57" x2="187.5" y2="303.57" stroke="#EBEBEB" stroke-width="0.9"/>
<line x1="28.5" y1="270.23" x2="187.5" y2="270.23" stroke="#EBEBEB" stroke-width="0.9"/>
<line x1="28.5" y1="236.88" x2="187.5" y2="236.88" stroke="#EBEBEB" stroke-width="0.9"/>
<line x1="28.5" y1="203.53" x2="187.5" y2="203.53" stroke="#EBEBEB" stroke-width="0.9"/>
<line x1="35.3" y1="180.6" x2="35.3" y2="326.3" stroke="#EBEBEB" stroke-width="1.1"/>
<line x1="64.4" y1="180.6" x2="64.4" y2="326.3" stroke="#EBEBEB" stroke-width="1.1"/>
<line x1="93.5" y1="180.6" x2="93.5" y2="326.3" stroke="#EBEBEB" stroke-width="1.1"/>
<line x1="122.6" y1="180.6" x2="122.6" y2="326.3" stroke="#EBEBEB" stroke-width="1.1"/>
<line x1="151.7" y1="180.6" x2="151.7" y2="326.3" stroke="#EBEBEB" stroke-width="1.1"/>
<line x1="180.8" y1="180.6" x2="180.8" y2="326.3" stroke="#EBEBEB" stroke-width="1.1"/>
<line x1="28.5" y1="320.25" x2="187.5" y2="320.25" stroke="#EBEBEB" stroke-width="1.1"/>
<line x1="28.5" y1="286.9" x2="187.5" y2="286.9" stroke="#EBEBEB" stroke-width="1.1"/>
<line x1="28.5" y1="253.55" x2="187.5" y2="253.55" stroke="#EBEBEB" stroke-width="1.1"/>
<line x1="28.5" y1="220.2" x2="187.5" y2="220.2" stroke="#EBEBEB" stroke-width="1.1"/>
<line x1="28.5" y1="186.85" x2="187.5" y2="186.85" stroke="#EBEBEB" stroke-width="1.1"/>
<polyline points="35.3,187.38 64.4,186.85 93.5,186.85 122.6,186.85 151.7,187.78 180.8,188.45" fill="none" stroke="#A6CEE3" stroke-width="2.1" stroke-dasharray="7 7" stroke-linejoin="round"/>
<polyline points="35.3,254.08 64.4,240.21 93.5,230.61 122.6,226.87 151.7,225.94 180.8,225.4" fill="none" stroke="#1F78B4" stroke-width="2.1" stroke-dasharray="7 7" stroke-linejoin="round"/>
<polyline points="35.3,222.6 64.4,220.33 93.5,213.53 122.6,215.8 151.7,216.86 180.8,219.93" fill="none" stroke="#B2DF8A" stroke-width="2.1" stroke-dasharray="7 7" stroke-linejoin="round"/>
<polyline points="35.3,187.92 64.4,190.85 93.5,189.52 122.6,190.19 151.7,192.45 180.8,197.66" fill="none" stroke="#33A02C" stroke-width="2.1" stroke-dasharray="7 7" stroke-linejoin="round"/>
<polyline points="35.3,252.75 64.4,247.81 93.5,246.08 122.6,245.55 151.7,242.88 180.8,240.21" fill="none" stroke="#FB9A99" stroke-width="2.1" stroke-dasharray="7 7" stroke-linejoin="round"/>
<polyline points="35.3,186.85 64.4,192.19 93.5,212.46 122.6,244.21 151.7,261.55 180.8,265.56" fill="none" stroke="#FDBF6F" stroke-width="2.1" stroke-dasharray="7 7" stroke-linejoin="round"/>
<polyline points="35.3,187.38 64.4,190.85 93.5,202.86 122.6,240.21 151.7,267.96 180.8,273.56" fill="none" stroke="#FF7F00" stroke-width="2.1" stroke-dasharray="7 7" stroke-linejoin="round"/>
<polyline points="35.3,228.87 64.4,219.93 93.5,218.07 122.6,218.6 151.7,216.86 180.8,221.4" fill="none" stroke="#CAB2D6" stroke-width="2.1" stroke-dasharray="7 7" stroke-linejoin="round"/>
<polyline points="35.3,200.32 64.4,198.46 93.5,195.79 122.6,194.72 151.7,194.05 180.8,197.66" fill="none" stroke="#E31A1C" stroke-width="2.1" stroke-dasharray="7 7" stroke-linejoin="round"/>
<path d="M32.15 197.17L38.45 203.47M32.15 203.47L38.45 197.17M30.85 200.32H39.75M35.3 195.87V204.78" stroke="#E31A1C" stroke-width="1.05" fill="none" stroke-linecap="round"/>
<path d="M61.25 195.31L67.55 201.61M61.25 201.61L67.55 195.31M59.95 198.46H68.85M64.4 194V202.91" stroke="#E31A1C" stroke-width="1.05" fill="none" stroke-linecap="round"/>
<path d="M90.35 192.64L96.65 198.94M90.35 198.94L96.65 192.64M89.05 195.79H97.95M93.5 191.33V200.24" stroke="#E31A1C" stroke-width="1.05" fill="none" stroke-linecap="round"/>
<path d="M119.45 191.57L125.75 197.87M119.45 197.87L125.75 191.57M118.15 194.72H127.05M122.6 190.27V199.18" stroke="#E31A1C" stroke-width="1.05" fill="none" stroke-linecap="round"/>
<path d="M148.55 190.9L154.85 197.2M148.55 197.2L154.85 190.9M147.25 194.05H156.15M151.7 189.6V198.51" stroke="#E31A1C" stroke-width="1.05" fill="none" stroke-linecap="round"/>
<path d="M177.65 194.51L183.95 200.81M177.65 200.81L183.95 194.51M176.35 197.66H185.25M180.8 193.2V202.11" stroke="#E31A1C" stroke-width="1.05" fill="none" stroke-linecap="round"/>
<path d="M32.15 225.72L38.45 232.02M32.15 232.02L38.45 225.72" stroke="#CAB2D6" stroke-width="1.05" fill="none" stroke-linecap="round"/><rect x="32.15" y="225.72" width="6.3" height="6.3" stroke="#CAB2D6" stroke-width="1.05" fill="none" stroke-linecap="round"/>
<path d="M61.25 216.78L67.55 223.08M61.25 223.08L67.55 216.78" stroke="#CAB2D6" stroke-width="1.05" fill="none" stroke-linecap="round"/><rect x="61.25" y="216.78" width="6.3" height="6.3" stroke="#CAB2D6" stroke-width="1.05" fill="none" stroke-linecap="round"/>
<path d="M90.35 214.92L96.65 221.22M90.35 221.22L96.65 214.92" stroke="#CAB2D6" stroke-width="1.05" fill="none" stroke-linecap="round"/><rect x="90.35" y="214.92" width="6.3" height="6.3" stroke="#CAB2D6" stroke-width="1.05" fill="none" stroke-linecap="round"/>
<path d="M119.45 215.45L125.75 221.75M119.45 221.75L125.75 215.45" stroke="#CAB2D6" stroke-width="1.05" fill="none" stroke-linecap="round"/><rect x="119.45" y="215.45" width="6.3" height="6.3" stroke="#CAB2D6" stroke-width="1.05" fill="none" stroke-linecap="round"/>
<path d="M148.55 213.71L154.85 220.01M148.55 220.01L154.85 213.71" stroke="#CAB2D6" stroke-width="1.05" fill="none" stroke-linecap="round"/><rect x="148.55" y="213.71" width="6.3" height="6.3" stroke="#CAB2D6" stroke-width="1.05" fill="none" stroke-linecap="round"/>
<path d="M177.65 218.25L183.95 224.55M177.65 224.55L183.95 218.25" stroke="#CAB2D6" stroke-width="1.05" fill="none" stroke-linecap="round"/><rect x="177.65" y="218.25" width="6.3" height="6.3" stroke="#CAB2D6" stroke-width="1.05" fill="none" stroke-linecap="round"/>
<path d="M32.15 249.6L38.45 255.9M32.15 255.9L38.45 249.6" stroke="#FB9A99" stroke-width="1.05" fill="none" stroke-linecap="round"/>
<path d="M61.25 244.66L67.55 250.96M61.25 250.96L67.55 244.66" stroke="#FB9A99" stroke-width="1.05" fill="none" stroke-linecap="round"/>
<path d="M90.35 242.93L96.65 249.23M90.35 249.23L96.65 242.93" stroke="#FB9A99" stroke-width="1.05" fill="none" stroke-linecap="round"/>
<path d="M119.45 242.4L125.75 248.7M119.45 248.7L125.75 242.4" stroke="#FB9A99" stroke-width="1.05" fill="none" stroke-linecap="round"/>
<path d="M148.55 239.73L154.85 246.03M148.55 246.03L154.85 239.73" stroke="#FB9A99" stroke-width="1.05" fill="none" stroke-linecap="round"/>
<path d="M177.65 237.06L183.95 243.36M177.65 243.36L183.95 237.06" stroke="#FB9A99" stroke-width="1.05" fill="none" stroke-linecap="round"/>
<rect x="32.15" y="184.23" width="6.3" height="6.3" stroke="#A6CEE3" stroke-width="1.05" fill="none" stroke-linecap="round"/>
<rect x="61.25" y="183.7" width="6.3" height="6.3" stroke="#A6CEE3" stroke-width="1.05" fill="none" stroke-linecap="round"/>
<rect x="90.35" y="183.7" width="6.3" height="6.3" stroke="#A6CEE3" stroke-width="1.05" fill="none" stroke-linecap="round"/>
<rect x="119.45" y="183.7" width="6.3" height="6.3" stroke="#A6CEE3" stroke-width="1.05" fill="none" stroke-linecap="round"/>
<rect x="148.55" y="184.63" width="6.3" height="6.3" stroke="#A6CEE3" stroke-width="1.05" fill="none" stroke-linecap="round"/>
<rect x="177.65" y="185.3" width="6.3" height="6.3" stroke="#A6CEE3" stroke-width="1.05" fill="none" stroke-linecap="round"/>
<circle cx="35.3" cy="254.08" r="3.15" stroke="#1F78B4" stroke-width="1.05" fill="none" stroke-linecap="round"/>
<circle cx="64.4" cy="240.21" r="3.15" stroke="#1F78B4" stroke-width="1.05" fill="none" stroke-linecap="round"/>
<circle cx="93.5" cy="230.61" r="3.15" stroke="#1F78B4" stroke-width="1.05" fill="none" stroke-linecap="round"/>
<circle cx="122.6" cy="226.87" r="3.15" stroke="#1F78B4" stroke-width="1.05" fill="none" stroke-linecap="round"/>
<circle cx="151.7" cy="225.94" r="3.15" stroke="#1F78B4" stroke-width="1.05" fill="none" stroke-linecap="round"/>
<circle cx="180.8" cy="225.4" r="3.15" stroke="#1F78B4" stroke-width="1.05" fill="none" stroke-linecap="round"/>
<polygon points="35.3,217.7 39.54,225.05 31.06,225.05" stroke="#B2DF8A" stroke-width="1.05" fill="none" stroke-linecap="round"/>
<polygon points="64.4,215.43 68.64,222.78 60.16,222.78" stroke="#B2DF8A" stroke-width="1.05" fill="none" stroke-linecap="round"/>
<polygon points="93.5,208.63 97.74,215.98 89.26,215.98" stroke="#B2DF8A" stroke-width="1.05" fill="none" stroke-linecap="round"/>
<polygon points="122.6,210.9 126.84,218.25 118.36,218.25" stroke="#B2DF8A" stroke-width="1.05" fill="none" stroke-linecap="round"/>
<polygon points="151.7,211.97 155.94,219.31 147.46,219.31" stroke="#B2DF8A" stroke-width="1.05" fill="none" stroke-linecap="round"/>
<polygon points="180.8,215.03 185.04,222.38 176.56,222.38" stroke="#B2DF8A" stroke-width="1.05" fill="none" stroke-linecap="round"/>
<polygon points="35.3,192.28 39.54,184.93 31.06,184.93" stroke="#FF7F00" stroke-width="1.05" fill="none" stroke-linecap="round"/>
<polygon points="64.4,195.75 68.64,188.4 60.16,188.4" stroke="#FF7F00" stroke-width="1.05" fill="none" stroke-linecap="round"/>
<polygon points="93.5,207.76 97.74,200.41 89.26,200.41" stroke="#FF7F00" stroke-width="1.05" fill="none" stroke-linecap="round"/>
<polygon points="122.6,245.11 126.84,237.76 118.36,237.76" stroke="#FF7F00" stroke-width="1.05" fill="none" stroke-linecap="round"/>
<polygon points="151.7,272.86 155.94,265.51 147.46,265.51" stroke="#FF7F00" stroke-width="1.05" fill="none" stroke-linecap="round"/>
<polygon points="180.8,278.46 185.04,271.11 176.56,271.11" stroke="#FF7F00" stroke-width="1.05" fill="none" stroke-linecap="round"/>
<polygon points="30.85,186.85 35.3,182.4 39.75,186.85 35.3,191.3" stroke="#FDBF6F" stroke-width="1.05" fill="none" stroke-linecap="round"/>
<polygon points="59.95,192.19 64.4,187.73 68.85,192.19 64.4,196.64" stroke="#FDBF6F" stroke-width="1.05" fill="none" stroke-linecap="round"/>
<polygon points="89.05,212.46 93.5,208.01 97.95,212.46 93.5,216.92" stroke="#FDBF6F" stroke-width="1.05" fill="none" stroke-linecap="round"/>
<polygon points="118.15,244.21 122.6,239.76 127.05,244.21 122.6,248.67" stroke="#FDBF6F" stroke-width="1.05" fill="none" stroke-linecap="round"/>
<polygon points="147.25,261.55 151.7,257.1 156.15,261.55 151.7,266.01" stroke="#FDBF6F" stroke-width="1.05" fill="none" stroke-linecap="round"/>
<polygon points="176.35,265.56 180.8,261.1 185.25,265.56 180.8,270.01" stroke="#FDBF6F" stroke-width="1.05" fill="none" stroke-linecap="round"/>
<path d="M30.85 187.92H39.75M35.3 183.46V192.37" stroke="#33A02C" stroke-width="1.05" fill="none" stroke-linecap="round"/>
<path d="M59.95 190.85H68.85M64.4 186.4V195.31" stroke="#33A02C" stroke-width="1.05" fill="none" stroke-linecap="round"/>
<path d="M89.05 189.52H97.95M93.5 185.06V193.97" stroke="#33A02C" stroke-width="1.05" fill="none" stroke-linecap="round"/>
<path d="M118.15 190.19H127.05M122.6 185.73V194.64" stroke="#33A02C" stroke-width="1.05" fill="none" stroke-linecap="round"/>
<path d="M147.25 192.45H156.15M151.7 188V196.91" stroke="#33A02C" stroke-width="1.05" fill="none" stroke-linecap="round"/>
<path d="M176.35 197.66H185.25M180.8 193.2V202.11" stroke="#33A02C" stroke-width="1.05" fill="none" stroke-linecap="round"/>
<rect x="28.5" y="180.6" width="159" height="145.7" fill="none" stroke="#333333" stroke-width="1.07"/>
</g>
<g>
<rect x="195.5" y="180.6" width="159" height="145.7" fill="#fff"/>
<line x1="216.85" y1="180.6" x2="216.85" y2="326.3" stroke="#EBEBEB" stroke-width="0.9"/>
<line x1="245.95" y1="180.6" x2="245.95" y2="326.3" stroke="#EBEBEB" stroke-width="0.9"/>
<line x1="275.05" y1="180.6" x2="275.05" y2="326.3" stroke="#EBEBEB" stroke-width="0.9"/>
<line x1="304.15" y1="180.6" x2="304.15" y2="326.3" stroke="#EBEBEB" stroke-width="0.9"/>
<line x1="333.25" y1="180.6" x2="333.25" y2="326.3" stroke="#EBEBEB" stroke-width="0.9"/>
<line x1="195.5" y1="303.57" x2="354.5" y2="303.57" stroke="#EBEBEB" stroke-width="0.9"/>
<line x1="195.5" y1="270.23" x2="354.5" y2="270.23" stroke="#EBEBEB" stroke-width="0.9"/>
<line x1="195.5" y1="236.88" x2="354.5" y2="236.88" stroke="#EBEBEB" stroke-width="0.9"/>
<line x1="195.5" y1="203.53" x2="354.5" y2="203.53" stroke="#EBEBEB" stroke-width="0.9"/>
<line x1="202.3" y1="180.6" x2="202.3" y2="326.3" stroke="#EBEBEB" stroke-width="1.1"/>
<line x1="231.4" y1="180.6" x2="231.4" y2="326.3" stroke="#EBEBEB" stroke-width="1.1"/>
<line x1="260.5" y1="180.6" x2="260.5" y2="326.3" stroke="#EBEBEB" stroke-width="1.1"/>
<line x1="289.6" y1="180.6" x2="289.6" y2="326.3" stroke="#EBEBEB" stroke-width="1.1"/>
<line x1="318.7" y1="180.6" x2="318.7" y2="326.3" stroke="#EBEBEB" stroke-width="1.1"/>
<line x1="347.8" y1="180.6" x2="347.8" y2="326.3" stroke="#EBEBEB" stroke-width="1.1"/>
<line x1="195.5" y1="320.25" x2="354.5" y2="320.25" stroke="#EBEBEB" stroke-width="1.1"/>
<line x1="195.5" y1="286.9" x2="354.5" y2="286.9" stroke="#EBEBEB" stroke-width="1.1"/>
<line x1="195.5" y1="253.55" x2="354.5" y2="253.55" stroke="#EBEBEB" stroke-width="1.1"/>
<line x1="195.5" y1="220.2" x2="354.5" y2="220.2" stroke="#EBEBEB" stroke-width="1.1"/>
<line x1="195.5" y1="186.85" x2="354.5" y2="186.85" stroke="#EBEBEB" stroke-width="1.1"/>
<polyline points="202.3,187.38 231.4,186.85 260.5,186.85 289.6,186.85 318.7,187.38 347.8,188.58" fill="none" stroke="#A6CEE3" stroke-width="2.1" stroke-dasharray="7 7" stroke-linejoin="round"/>
<polyline points="202.3,253.55 231.4,241.01 260.5,229.54 289.6,225.54 318.7,224.2 347.8,225.54" fill="none" stroke="#1F78B4" stroke-width="2.1" stroke-dasharray="7 7" stroke-linejoin="round"/>
<polyline points="202.3,224.87 231.4,221.4 260.5,210.19 289.6,211.26 318.7,216.86 347.8,215.8" fill="none" stroke="#B2DF8A" stroke-width="2.1" stroke-dasharray="7 7" stroke-linejoin="round"/>
<polyline points="202.3,187.92 231.4,188.85 260.5,190.19 289.6,190.19 318.7,191.25 347.8,196.32" fill="none" stroke="#33A02C" stroke-width="2.1" stroke-dasharray="7 7" stroke-linejoin="round"/>
<polyline points="202.3,252.75 231.4,246.88 260.5,246.08 289.6,245.55 318.7,242.61 347.8,240.21" fill="none" stroke="#FB9A99" stroke-width="2.1" stroke-dasharray="7 7" stroke-linejoin="round"/>
<polyline points="202.3,192.19 231.4,190.85 260.5,213.93 289.6,246.88 318.7,261.55 347.8,264.22" fill="none" stroke="#FDBF6F" stroke-width="2.1" stroke-dasharray="7 7" stroke-linejoin="round"/>
<polyline points="202.3,188.18 231.4,188.18 260.5,200.99 289.6,241.54 318.7,268.22 347.8,273.56" fill="none" stroke="#FF7F00" stroke-width="2.1" stroke-dasharray="7 7" stroke-linejoin="round"/>
<polyline points="202.3,230.47 231.4,221.4 260.5,214.73 289.6,218.07 318.7,218.07 347.8,217.53" fill="none" stroke="#CAB2D6" stroke-width="2.1" stroke-dasharray="7 7" stroke-linejoin="round"/>
<polyline points="202.3,200.32 231.4,195.79 260.5,192.45 289.6,193.12 318.7,192.45 347.8,196.32" fill="none" stroke="#E31A1C" stroke-width="2.1" stroke-dasharray="7 7" stroke-linejoin="round"/>
<path d="M199.15 197.17L205.45 203.47M199.15 203.47L205.45 197.17M197.85 200.32H206.75M202.3 195.87V204.78" stroke="#E31A1C" stroke-width="1.05" fill="none" stroke-linecap="round"/>
<path d="M228.25 192.64L234.55 198.94M228.25 198.94L234.55 192.64M226.95 195.79H235.85M231.4 191.33V200.24" stroke="#E31A1C" stroke-width="1.05" fill="none" stroke-linecap="round"/>
<path d="M257.35 189.3L263.65 195.6M257.35 195.6L263.65 189.3M256.05 192.45H264.95M260.5 188V196.91" stroke="#E31A1C" stroke-width="1.05" fill="none" stroke-linecap="round"/>
<path d="M286.45 189.97L292.75 196.27M286.45 196.27L292.75 189.97M285.15 193.12H294.05M289.6 188.67V197.57" stroke="#E31A1C" stroke-width="1.05" fill="none" stroke-linecap="round"/>
<path d="M315.55 189.3L321.85 195.6M315.55 195.6L321.85 189.3M314.25 192.45H323.15M318.7 188V196.91" stroke="#E31A1C" stroke-width="1.05" fill="none" stroke-linecap="round"/>
<path d="M344.65 193.17L350.95 199.47M344.65 199.47L350.95 193.17M343.35 196.32H352.25M347.8 191.87V200.78" stroke="#E31A1C" stroke-width="1.05" fill="none" stroke-linecap="round"/>
<path d="M199.15 227.32L205.45 233.62M199.15 233.62L205.45 227.32" stroke="#CAB2D6" stroke-width="1.05" fill="none" stroke-linecap="round"/><rect x="199.15" y="227.32" width="6.3" height="6.3" stroke="#CAB2D6" stroke-width="1.05" fill="none" stroke-linecap="round"/>
<path d="M228.25 218.25L234.55 224.55M228.25 224.55L234.55 218.25" stroke="#CAB2D6" stroke-width="1.05" fill="none" stroke-linecap="round"/><rect x="228.25" y="218.25" width="6.3" height="6.3" stroke="#CAB2D6" stroke-width="1.05" fill="none" stroke-linecap="round"/>
<path d="M257.35 211.58L263.65 217.88M257.35 217.88L263.65 211.58" stroke="#CAB2D6" stroke-width="1.05" fill="none" stroke-linecap="round"/><rect x="257.35" y="211.58" width="6.3" height="6.3" stroke="#CAB2D6" stroke-width="1.05" fill="none" stroke-linecap="round"/>
<path d="M286.45 214.92L292.75 221.22M286.45 221.22L292.75 214.92" stroke="#CAB2D6" stroke-width="1.05" fill="none" stroke-linecap="round"/><rect x="286.45" y="214.92" width="6.3" height="6.3" stroke="#CAB2D6" stroke-width="1.05" fill="none" stroke-linecap="round"/>
<path d="M315.55 214.92L321.85 221.22M315.55 221.22L321.85 214.92" stroke="#CAB2D6" stroke-width="1.05" fill="none" stroke-linecap="round"/><rect x="315.55" y="214.92" width="6.3" height="6.3" stroke="#CAB2D6" stroke-width="1.05" fill="none" stroke-linecap="round"/>
<path d="M344.65 214.38L350.95 220.68M344.65 220.68L350.95 214.38" stroke="#CAB2D6" stroke-width="1.05" fill="none" stroke-linecap="round"/><rect x="344.65" y="214.38" width="6.3" height="6.3" stroke="#CAB2D6" stroke-width="1.05" fill="none" stroke-linecap="round"/>
<path d="M199.15 249.6L205.45 255.9M199.15 255.9L205.45 249.6" stroke="#FB9A99" stroke-width="1.05" fill="none" stroke-linecap="round"/>
<path d="M228.25 243.73L234.55 250.03M228.25 250.03L234.55 243.73" stroke="#FB9A99" stroke-width="1.05" fill="none" stroke-linecap="round"/>
<path d="M257.35 242.93L263.65 249.23M257.35 249.23L263.65 242.93" stroke="#FB9A99" stroke-width="1.05" fill="none" stroke-linecap="round"/>
<path d="M286.45 242.4L292.75 248.7M286.45 248.7L292.75 242.4" stroke="#FB9A99" stroke-width="1.05" fill="none" stroke-linecap="round"/>
<path d="M315.55 239.46L321.85 245.76M315.55 245.76L321.85 239.46" stroke="#FB9A99" stroke-width="1.05" fill="none" stroke-linecap="round"/>
<path d="M344.65 237.06L350.95 243.36M344.65 243.36L350.95 237.06" stroke="#FB9A99" stroke-width="1.05" fill="none" stroke-linecap="round"/>
<rect x="199.15" y="184.23" width="6.3" height="6.3" stroke="#A6CEE3" stroke-width="1.05" fill="none" stroke-linecap="round"/>
<rect x="228.25" y="183.7" width="6.3" height="6.3" stroke="#A6CEE3" stroke-width="1.05" fill="none" stroke-linecap="round"/>
<rect x="257.35" y="183.7" width="6.3" height="6.3" stroke="#A6CEE3" stroke-width="1.05" fill="none" stroke-linecap="round"/>
<rect x="286.45" y="183.7" width="6.3" height="6.3" stroke="#A6CEE3" stroke-width="1.05" fill="none" stroke-linecap="round"/>
<rect x="315.55" y="184.23" width="6.3" height="6.3" stroke="#A6CEE3" stroke-width="1.05" fill="none" stroke-linecap="round"/>
<rect x="344.65" y="185.43" width="6.3" height="6.3" stroke="#A6CEE3" stroke-width="1.05" fill="none" stroke-linecap="round"/>
<circle cx="202.3" cy="253.55" r="3.15" stroke="#1F78B4" stroke-width="1.05" fill="none" stroke-linecap="round"/>
<circle cx="231.4" cy="241.01" r="3.15" stroke="#1F78B4" stroke-width="1.05" fill="none" stroke-linecap="round"/>
<circle cx="260.5" cy="229.54" r="3.15" stroke="#1F78B4" stroke-width="1.05" fill="none" stroke-linecap="round"/>
<circle cx="289.6" cy="225.54" r="3.15" stroke="#1F78B4" stroke-width="1.05" fill="none" stroke-linecap="round"/>
<circle cx="318.7" cy="224.2" r="3.15" stroke="#1F78B4" stroke-width="1.05" fill="none" stroke-linecap="round"/>
<circle cx="347.8" cy="225.54" r="3.15" stroke="#1F78B4" stroke-width="1.05" fill="none" stroke-linecap="round"/>
<polygon points="202.3,219.97 206.54,227.32 198.06,227.32" stroke="#B2DF8A" stroke-width="1.05" fill="none" stroke-linecap="round"/>
<polygon points="231.4,216.5 235.64,223.85 227.16,223.85" stroke="#B2DF8A" stroke-width="1.05" fill="none" stroke-linecap="round"/>
<polygon points="260.5,205.3 264.74,212.64 256.26,212.64" stroke="#B2DF8A" stroke-width="1.05" fill="none" stroke-linecap="round"/>
<polygon points="289.6,206.36 293.84,213.71 285.36,213.71" stroke="#B2DF8A" stroke-width="1.05" fill="none" stroke-linecap="round"/>
<polygon points="318.7,211.97 322.94,219.31 314.46,219.31" stroke="#B2DF8A" stroke-width="1.05" fill="none" stroke-linecap="round"/>
<polygon points="347.8,210.9 352.04,218.25 343.56,218.25" stroke="#B2DF8A" stroke-width="1.05" fill="none" stroke-linecap="round"/>
<polygon points="202.3,193.08 206.54,185.73 198.06,185.73" stroke="#FF7F00" stroke-width="1.05" fill="none" stroke-linecap="round"/>
<polygon points="231.4,193.08 235.64,185.73 227.16,185.73" stroke="#FF7F00" stroke-width="1.05" fill="none" stroke-linecap="round"/>
<polygon points="260.5,205.89 264.74,198.54 256.26,198.54" stroke="#FF7F00" stroke-width="1.05" fill="none" stroke-linecap="round"/>
<polygon points="289.6,246.44 293.84,239.09 285.36,239.09" stroke="#FF7F00" stroke-width="1.05" fill="none" stroke-linecap="round"/>
<polygon points="318.7,273.12 322.94,265.77 314.46,265.77" stroke="#FF7F00" stroke-width="1.05" fill="none" stroke-linecap="round"/>
<polygon points="347.8,278.46 352.04,271.11 343.56,271.11" stroke="#FF7F00" stroke-width="1.05" fill="none" stroke-linecap="round"/>
<polygon points="197.85,192.19 202.3,187.73 206.75,192.19 202.3,196.64" stroke="#FDBF6F" stroke-width="1.05" fill="none" stroke-linecap="round"/>
<polygon points="226.95,190.85 231.4,186.4 235.85,190.85 231.4,195.31" stroke="#FDBF6F" stroke-width="1.05" fill="none" stroke-linecap="round"/>
<polygon points="256.05,213.93 260.5,209.48 264.95,213.93 260.5,218.38" stroke="#FDBF6F" stroke-width="1.05" fill="none" stroke-linecap="round"/>
<polygon points="285.15,246.88 289.6,242.43 294.05,246.88 289.6,251.33" stroke="#FDBF6F" stroke-width="1.05" fill="none" stroke-linecap="round"/>
<polygon points="314.25,261.55 318.7,257.1 323.15,261.55 318.7,266.01" stroke="#FDBF6F" stroke-width="1.05" fill="none" stroke-linecap="round"/>
<polygon points="343.35,264.22 347.8,259.77 352.25,264.22 347.8,268.68" stroke="#FDBF6F" stroke-width="1.05" fill="none" stroke-linecap="round"/>
<path d="M197.85 187.92H206.75M202.3 183.46V192.37" stroke="#33A02C" stroke-width="1.05" fill="none" stroke-linecap="round"/>
<path d="M226.95 188.85H235.85M231.4 184.4V193.31" stroke="#33A02C" stroke-width="1.05" fill="none" stroke-linecap="round"/>
<path d="M256.05 190.19H264.95M260.5 185.73V194.64" stroke="#33A02C" stroke-width="1.05" fill="none" stroke-linecap="round"/>
<path d="M285.15 190.19H294.05M289.6 185.73V194.64" stroke="#33A02C" stroke-width="1.05" fill="none" stroke-linecap="round"/>
<path d="M314.25 191.25H323.15M318.7 186.8V195.71" stroke="#33A02C" stroke-width="1.05" fill="none" stroke-linecap="round"/>
<path d="M343.35 196.32H352.25M347.8 191.87V200.78" stroke="#33A02C" stroke-width="1.05" fill="none" stroke-linecap="round"/>
<rect x="195.5" y="180.6" width="159" height="145.7" fill="none" stroke="#333333" stroke-width="1.07"/>
</g>
<g>
<rect x="362.1" y="180.6" width="159" height="145.7" fill="#fff"/>
<line x1="383.45" y1="180.6" x2="383.45" y2="326.3" stroke="#EBEBEB" stroke-width="0.9"/>
<line x1="412.55" y1="180.6" x2="412.55" y2="326.3" stroke="#EBEBEB" stroke-width="0.9"/>
<line x1="441.65" y1="180.6" x2="441.65" y2="326.3" stroke="#EBEBEB" stroke-width="0.9"/>
<line x1="470.75" y1="180.6" x2="470.75" y2="326.3" stroke="#EBEBEB" stroke-width="0.9"/>
<line x1="499.85" y1="180.6" x2="499.85" y2="326.3" stroke="#EBEBEB" stroke-width="0.9"/>
<line x1="362.1" y1="303.57" x2="521.1" y2="303.57" stroke="#EBEBEB" stroke-width="0.9"/>
<line x1="362.1" y1="270.23" x2="521.1" y2="270.23" stroke="#EBEBEB" stroke-width="0.9"/>
<line x1="362.1" y1="236.88" x2="521.1" y2="236.88" stroke="#EBEBEB" stroke-width="0.9"/>
<line x1="362.1" y1="203.53" x2="521.1" y2="203.53" stroke="#EBEBEB" stroke-width="0.9"/>
<line x1="368.9" y1="180.6" x2="368.9" y2="326.3" stroke="#EBEBEB" stroke-width="1.1"/>
<line x1="398" y1="180.6" x2="398" y2="326.3" stroke="#EBEBEB" stroke-width="1.1"/>
<line x1="427.1" y1="180.6" x2="427.1" y2="326.3" stroke="#EBEBEB" stroke-width="1.1"/>
<line x1="456.2" y1="180.6" x2="456.2" y2="326.3" stroke="#EBEBEB" stroke-width="1.1"/>
<line x1="485.3" y1="180.6" x2="485.3" y2="326.3" stroke="#EBEBEB" stroke-width="1.1"/>
<line x1="514.4" y1="180.6" x2="514.4" y2="326.3" stroke="#EBEBEB" stroke-width="1.1"/>
<line x1="362.1" y1="320.25" x2="521.1" y2="320.25" stroke="#EBEBEB" stroke-width="1.1"/>
<line x1="362.1" y1="286.9" x2="521.1" y2="286.9" stroke="#EBEBEB" stroke-width="1.1"/>
<line x1="362.1" y1="253.55" x2="521.1" y2="253.55" stroke="#EBEBEB" stroke-width="1.1"/>
<line x1="362.1" y1="220.2" x2="521.1" y2="220.2" stroke="#EBEBEB" stroke-width="1.1"/>
<line x1="362.1" y1="186.85" x2="521.1" y2="186.85" stroke="#EBEBEB" stroke-width="1.1"/>
<polyline points="368.9,189.52 398,188.85 427.1,190.19 456.2,190.05 485.3,191.79 514.4,191.25" fill="none" stroke="#A6CEE3" stroke-width="2.1" stroke-dasharray="7 7" stroke-linejoin="round"/>
<polyline points="368.9,206.33 398,199.39 427.1,196.45 456.2,195.92 485.3,193.52 514.4,194.19" fill="none" stroke="#1F78B4" stroke-width="2.1" stroke-dasharray="7 7" stroke-linejoin="round"/>
<polyline points="368.9,189.52 398,189.52 427.1,190.19 456.2,193.52 485.3,197.52 514.4,201.52" fill="none" stroke="#B2DF8A" stroke-width="2.1" stroke-dasharray="7 7" stroke-linejoin="round"/>
<polyline points="368.9,189.52 398,188.85 427.1,190.19 456.2,190.05 485.3,191.79 514.4,191.25" fill="none" stroke="#33A02C" stroke-width="2.1" stroke-dasharray="7 7" stroke-linejoin="round"/>
<polyline points="368.9,250.88 398,240.61 427.1,231.14 456.2,232.61 485.3,237.81 514.4,242.08" fill="none" stroke="#FB9A99" stroke-width="2.1" stroke-dasharray="7 7" stroke-linejoin="round"/>
<polyline points="368.9,190.05 398,188.98 427.1,190.72 456.2,196.99 485.3,201.12 514.4,206.86" fill="none" stroke="#FDBF6F" stroke-width="2.1" stroke-dasharray="7 7" stroke-linejoin="round"/>
<polyline points="368.9,190.19 398,189.52 427.1,191.52 456.2,194.32 485.3,206.86 514.4,223" fill="none" stroke="#FF7F00" stroke-width="2.1" stroke-dasharray="7 7" stroke-linejoin="round"/>
<polyline points="368.9,199.39 398,203.39 427.1,197.52 456.2,195.52 485.3,196.19 514.4,198.19" fill="none" stroke="#CAB2D6" stroke-width="2.1" stroke-dasharray="7 7" stroke-linejoin="round"/>
<polyline points="368.9,205.26 398,202.19 427.1,197.52 456.2,196.19 485.3,196.45 514.4,198.19" fill="none" stroke="#E31A1C" stroke-width="2.1" stroke-dasharray="7 7" stroke-linejoin="round"/>
<path d="M365.75 202.11L372.05 208.41M365.75 208.41L372.05 202.11M364.45 205.26H373.35M368.9 200.8V209.71" stroke="#E31A1C" stroke-width="1.05" fill="none" stroke-linecap="round"/>
<path d="M394.85 199.04L401.15 205.34M394.85 205.34L401.15 199.04M393.55 202.19H402.45M398 197.74V206.65" stroke="#E31A1C" stroke-width="1.05" fill="none" stroke-linecap="round"/>
<path d="M423.95 194.37L430.25 200.67M423.95 200.67L430.25 194.37M422.65 197.52H431.55M427.1 193.07V201.98" stroke="#E31A1C" stroke-width="1.05" fill="none" stroke-linecap="round"/>
<path d="M453.05 193.04L459.35 199.34M453.05 199.34L459.35 193.04M451.75 196.19H460.65M456.2 191.73V200.64" stroke="#E31A1C" stroke-width="1.05" fill="none" stroke-linecap="round"/>
<path d="M482.15 193.3L488.45 199.6M482.15 199.6L488.45 193.3M480.85 196.45H489.75M485.3 192V200.91" stroke="#E31A1C" stroke-width="1.05" fill="none" stroke-linecap="round"/>
<path d="M511.25 195.04L517.55 201.34M511.25 201.34L517.55 195.04M509.95 198.19H518.85M514.4 193.73V202.64" stroke="#E31A1C" stroke-width="1.05" fill="none" stroke-linecap="round"/>
<path d="M365.75 196.24L372.05 202.54M365.75 202.54L372.05 196.24" stroke="#CAB2D6" stroke-width="1.05" fill="none" stroke-linecap="round"/><rect x="365.75" y="196.24" width="6.3" height="6.3" stroke="#CAB2D6" stroke-width="1.05" fill="none" stroke-linecap="round"/>
<path d="M394.85 200.24L401.15 206.54M394.85 206.54L401.15 200.24" stroke="#CAB2D6" stroke-width="1.05" fill="none" stroke-linecap="round"/><rect x="394.85" y="200.24" width="6.3" height="6.3" stroke="#CAB2D6" stroke-width="1.05" fill="none" stroke-linecap="round"/>
<path d="M423.95 194.37L430.25 200.67M423.95 200.67L430.25 194.37" stroke="#CAB2D6" stroke-width="1.05" fill="none" stroke-linecap="round"/><rect x="423.95" y="194.37" width="6.3" height="6.3" stroke="#CAB2D6" stroke-width="1.05" fill="none" stroke-linecap="round"/>
<path d="M453.05 192.37L459.35 198.67M453.05 198.67L459.35 192.37" stroke="#CAB2D6" stroke-width="1.05" fill="none" stroke-linecap="round"/><rect x="453.05" y="192.37" width="6.3" height="6.3" stroke="#CAB2D6" stroke-width="1.05" fill="none" stroke-linecap="round"/>
<path d="M482.15 193.04L488.45 199.34M482.15 199.34L488.45 193.04" stroke="#CAB2D6" stroke-width="1.05" fill="none" stroke-linecap="round"/><rect x="482.15" y="193.04" width="6.3" height="6.3" stroke="#CAB2D6" stroke-width="1.05" fill="none" stroke-linecap="round"/>
<path d="M511.25 195.04L517.55 201.34M511.25 201.34L517.55 195.04" stroke="#CAB2D6" stroke-width="1.05" fill="none" stroke-linecap="round"/><rect x="511.25" y="195.04" width="6.3" height="6.3" stroke="#CAB2D6" stroke-width="1.05" fill="none" stroke-linecap="round"/>
<path d="M365.75 247.73L372.05 254.03M365.75 254.03L372.05 247.73" stroke="#FB9A99" stroke-width="1.05" fill="none" stroke-linecap="round"/>
<path d="M394.85 237.46L401.15 243.76M394.85 243.76L401.15 237.46" stroke="#FB9A99" stroke-width="1.05" fill="none" stroke-linecap="round"/>
<path d="M423.95 227.99L430.25 234.29M423.95 234.29L430.25 227.99" stroke="#FB9A99" stroke-width="1.05" fill="none" stroke-linecap="round"/>
<path d="M453.05 229.46L459.35 235.76M453.05 235.76L459.35 229.46" stroke="#FB9A99" stroke-width="1.05" fill="none" stroke-linecap="round"/>
<path d="M482.15 234.66L488.45 240.96M482.15 240.96L488.45 234.66" stroke="#FB9A99" stroke-width="1.05" fill="none" stroke-linecap="round"/>
<path d="M511.25 238.93L517.55 245.23M511.25 245.23L517.55 238.93" stroke="#FB9A99" stroke-width="1.05" fill="none" stroke-linecap="round"/>
<rect x="365.75" y="186.37" width="6.3" height="6.3" stroke="#A6CEE3" stroke-width="1.05" fill="none" stroke-linecap="round"/>
<rect x="394.85" y="185.7" width="6.3" height="6.3" stroke="#A6CEE3" stroke-width="1.05" fill="none" stroke-linecap="round"/>
<rect x="423.95" y="187.03" width="6.3" height="6.3" stroke="#A6CEE3" stroke-width="1.05" fill="none" stroke-linecap="round"/>
<rect x="453.05" y="186.9" width="6.3" height="6.3" stroke="#A6CEE3" stroke-width="1.05" fill="none" stroke-linecap="round"/>
<rect x="482.15" y="188.64" width="6.3" height="6.3" stroke="#A6CEE3" stroke-width="1.05" fill="none" stroke-linecap="round"/>
<rect x="511.25" y="188.1" width="6.3" height="6.3" stroke="#A6CEE3" stroke-width="1.05" fill="none" stroke-linecap="round"/>
<circle cx="368.9" cy="206.33" r="3.15" stroke="#1F78B4" stroke-width="1.05" fill="none" stroke-linecap="round"/>
<circle cx="398" cy="199.39" r="3.15" stroke="#1F78B4" stroke-width="1.05" fill="none" stroke-linecap="round"/>
<circle cx="427.1" cy="196.45" r="3.15" stroke="#1F78B4" stroke-width="1.05" fill="none" stroke-linecap="round"/>
<circle cx="456.2" cy="195.92" r="3.15" stroke="#1F78B4" stroke-width="1.05" fill="none" stroke-linecap="round"/>
<circle cx="485.3" cy="193.52" r="3.15" stroke="#1F78B4" stroke-width="1.05" fill="none" stroke-linecap="round"/>
<circle cx="514.4" cy="194.19" r="3.15" stroke="#1F78B4" stroke-width="1.05" fill="none" stroke-linecap="round"/>
<polygon points="368.9,184.62 373.14,191.97 364.66,191.97" stroke="#B2DF8A" stroke-width="1.05" fill="none" stroke-linecap="round"/>
<polygon points="398,184.62 402.24,191.97 393.76,191.97" stroke="#B2DF8A" stroke-width="1.05" fill="none" stroke-linecap="round"/>
<polygon points="427.1,185.29 431.34,192.63 422.86,192.63" stroke="#B2DF8A" stroke-width="1.05" fill="none" stroke-linecap="round"/>
<polygon points="456.2,188.62 460.44,195.97 451.96,195.97" stroke="#B2DF8A" stroke-width="1.05" fill="none" stroke-linecap="round"/>
<polygon points="485.3,192.62 489.54,199.97 481.06,199.97" stroke="#B2DF8A" stroke-width="1.05" fill="none" stroke-linecap="round"/>
<polygon points="514.4,196.63 518.64,203.97 510.16,203.97" stroke="#B2DF8A" stroke-width="1.05" fill="none" stroke-linecap="round"/>
<polygon points="368.9,195.08 373.14,187.74 364.66,187.74" stroke="#FF7F00" stroke-width="1.05" fill="none" stroke-linecap="round"/>
<polygon points="398,194.42 402.24,187.07 393.76,187.07" stroke="#FF7F00" stroke-width="1.05" fill="none" stroke-linecap="round"/>
<polygon points="427.1,196.42 431.34,189.07 422.86,189.07" stroke="#FF7F00" stroke-width="1.05" fill="none" stroke-linecap="round"/>
<polygon points="456.2,199.22 460.44,191.87 451.96,191.87" stroke="#FF7F00" stroke-width="1.05" fill="none" stroke-linecap="round"/>
<polygon points="485.3,211.76 489.54,204.41 481.06,204.41" stroke="#FF7F00" stroke-width="1.05" fill="none" stroke-linecap="round"/>
<polygon points="514.4,227.9 518.64,220.55 510.16,220.55" stroke="#FF7F00" stroke-width="1.05" fill="none" stroke-linecap="round"/>
<polygon points="364.45,190.05 368.9,185.6 373.35,190.05 368.9,194.51" stroke="#FDBF6F" stroke-width="1.05" fill="none" stroke-linecap="round"/>
<polygon points="393.55,188.98 398,184.53 402.45,188.98 398,193.44" stroke="#FDBF6F" stroke-width="1.05" fill="none" stroke-linecap="round"/>
<polygon points="422.65,190.72 427.1,186.26 431.55,190.72 427.1,195.17" stroke="#FDBF6F" stroke-width="1.05" fill="none" stroke-linecap="round"/>
<polygon points="451.75,196.99 456.2,192.53 460.65,196.99 456.2,201.44" stroke="#FDBF6F" stroke-width="1.05" fill="none" stroke-linecap="round"/>
<polygon points="480.85,201.12 485.3,196.67 489.75,201.12 485.3,205.58" stroke="#FDBF6F" stroke-width="1.05" fill="none" stroke-linecap="round"/>
<polygon points="509.95,206.86 514.4,202.41 518.85,206.86 514.4,211.31" stroke="#FDBF6F" stroke-width="1.05" fill="none" stroke-linecap="round"/>
<path d="M364.45 189.52H373.35M368.9 185.06V193.97" stroke="#33A02C" stroke-width="1.05" fill="none" stroke-linecap="round"/>
<path d="M393.55 188.85H402.45M398 184.4V193.31" stroke="#33A02C" stroke-width="1.05" fill="none" stroke-linecap="round"/>
<path d="M422.65 190.19H431.55M427.1 185.73V194.64" stroke="#33A02C" stroke-width="1.05" fill="none" stroke-linecap="round"/>
<path d="M451.75 190.05H460.65M456.2 185.6V194.51" stroke="#33A02C" stroke-width="1.05" fill="none" stroke-linecap="round"/>
<path d="M480.85 191.79H489.75M485.3 187.33V196.24" stroke="#33A02C" stroke-width="1.05" fill="none" stroke-linecap="round"/>
<path d="M509.95 191.25H518.85M514.4 186.8V195.71" stroke="#33A02C" stroke-width="1.05" fill="none" stroke-linecap="round"/>
<rect x="362.1" y="180.6" width="159" height="145.7" fill="none" stroke="#333333" stroke-width="1.07"/>
</g>
<g>
<rect x="28.5" y="334.3" width="159" height="145.7" fill="#fff"/>
<line x1="49.85" y1="334.3" x2="49.85" y2="480" stroke="#EBEBEB" stroke-width="0.9"/>
<line x1="78.95" y1="334.3" x2="78.95" y2="480" stroke="#EBEBEB" stroke-width="0.9"/>
<line x1="108.05" y1="334.3" x2="108.05" y2="480" stroke="#EBEBEB" stroke-width="0.9"/>
<line x1="137.15" y1="334.3" x2="137.15" y2="480" stroke="#EBEBEB" stroke-width="0.9"/>
<line x1="166.25" y1="334.3" x2="166.25" y2="480" stroke="#EBEBEB" stroke-width="0.9"/>
<line x1="28.5" y1="457.08" x2="187.5" y2="457.08" stroke="#EBEBEB" stroke-width="0.9"/>
<line x1="28.5" y1="423.73" x2="187.5" y2="423.73" stroke="#EBEBEB" stroke-width="0.9"/>
<line x1="28.5" y1="390.38" x2="187.5" y2="390.38" stroke="#EBEBEB" stroke-width="0.9"/>
<line x1="28.5" y1="357.03" x2="187.5" y2="357.03" stroke="#EBEBEB" stroke-width="0.9"/>
<line x1="35.3" y1="334.3" x2="35.3" y2="480" stroke="#EBEBEB" stroke-width="1.1"/>
<line x1="64.4" y1="334.3" x2="64.4" y2="480" stroke="#EBEBEB" stroke-width="1.1"/>
<line x1="93.5" y1="334.3" x2="93.5" y2="480" stroke="#EBEBEB" stroke-width="1.1"/>
<line x1="122.6" y1="334.3" x2="122.6" y2="480" stroke="#EBEBEB" stroke-width="1.1"/>
<line x1="151.7" y1="334.3" x2="151.7" y2="480" stroke="#EBEBEB" stroke-width="1.1"/>
<line x1="180.8" y1="334.3" x2="180.8" y2="480" stroke="#EBEBEB" stroke-width="1.1"/>
<line x1="28.5" y1="473.75" x2="187.5" y2="473.75" stroke="#EBEBEB" stroke-width="1.1"/>
<line x1="28.5" y1="440.4" x2="187.5" y2="440.4" stroke="#EBEBEB" stroke-width="1.1"/>
<line x1="28.5" y1="407.05" x2="187.5" y2="407.05" stroke="#EBEBEB" stroke-width="1.1"/>
<line x1="28.5" y1="373.7" x2="187.5" y2="373.7" stroke="#EBEBEB" stroke-width="1.1"/>
<line x1="28.5" y1="340.35" x2="187.5" y2="340.35" stroke="#EBEBEB" stroke-width="1.1"/>
<polyline points="35.3,473.75 64.4,473.08 93.5,465.08 122.6,431.06 151.7,379.7 180.8,357.69" fill="none" stroke="#A6CEE3" stroke-width="2.1" stroke-dasharray="7 7" stroke-linejoin="round"/>
<polyline points="35.3,419.06 64.4,402.65 93.5,379.7 122.6,369.7 151.7,365.3 180.8,364.9" fill="none" stroke="#1F78B4" stroke-width="2.1" stroke-dasharray="7 7" stroke-linejoin="round"/>
<polyline points="35.3,463.61 64.4,450.14 93.5,391.71 122.6,370.37 151.7,364.36 180.8,363.03" fill="none" stroke="#B2DF8A" stroke-width="2.1" stroke-dasharray="7 7" stroke-linejoin="round"/>
<polyline points="35.3,473.08 64.4,468.41 93.5,406.38 122.6,368.36 151.7,353.16 180.8,350.62" fill="none" stroke="#33A02C" stroke-width="2.1" stroke-dasharray="7 7" stroke-linejoin="round"/>
<polyline points="35.3,399.71 64.4,394.38 93.5,392.38 122.6,386.77 151.7,382.37 180.8,378.37" fill="none" stroke="#FB9A99" stroke-width="2.1" stroke-dasharray="7 7" stroke-linejoin="round"/>
<polyline points="35.3,473.08 64.4,467.08 93.5,417.06 122.6,398.25 151.7,404.12 180.8,405.58" fill="none" stroke="#FDBF6F" stroke-width="2.1" stroke-dasharray="7 7" stroke-linejoin="round"/>
<polyline points="35.3,473.08 64.4,471.35 93.5,427.73 122.6,403.72 151.7,414.25 180.8,419.06" fill="none" stroke="#FF7F00" stroke-width="2.1" stroke-dasharray="7 7" stroke-linejoin="round"/>
<polyline points="35.3,454.14 64.4,441.07 93.5,409.05 122.6,387.44 151.7,382.37 180.8,382.37" fill="none" stroke="#CAB2D6" stroke-width="2.1" stroke-dasharray="7 7" stroke-linejoin="round"/>
<polyline points="35.3,468.41 64.4,442.4 93.5,382.37 122.6,358.36 151.7,347.95 180.8,347.95" fill="none" stroke="#E31A1C" stroke-width="2.1" stroke-dasharray="7 7" stroke-linejoin="round"/>
<path d="M32.15 465.26L38.45 471.56M32.15 471.56L38.45 465.26M30.85 468.41H39.75M35.3 463.96V472.87" stroke="#E31A1C" stroke-width="1.05" fill="none" stroke-linecap="round"/>
<path d="M61.25 439.25L67.55 445.55M61.25 445.55L67.55 439.25M59.95 442.4H68.85M64.4 437.95V446.86" stroke="#E31A1C" stroke-width="1.05" fill="none" stroke-linecap="round"/>
<path d="M90.35 379.22L96.65 385.52M90.35 385.52L96.65 379.22M89.05 382.37H97.95M93.5 377.92V386.83" stroke="#E31A1C" stroke-width="1.05" fill="none" stroke-linecap="round"/>
<path d="M119.45 355.21L125.75 361.51M119.45 361.51L125.75 355.21M118.15 358.36H127.05M122.6 353.9V362.81" stroke="#E31A1C" stroke-width="1.05" fill="none" stroke-linecap="round"/>
<path d="M148.55 344.8L154.85 351.1M148.55 351.1L154.85 344.8M147.25 347.95H156.15M151.7 343.5V352.41" stroke="#E31A1C" stroke-width="1.05" fill="none" stroke-linecap="round"/>
<path d="M177.65 344.8L183.95 351.1M177.65 351.1L183.95 344.8M176.35 347.95H185.25M180.8 343.5V352.41" stroke="#E31A1C" stroke-width="1.05" fill="none" stroke-linecap="round"/>
<path d="M32.15 450.99L38.45 457.29M32.15 457.29L38.45 450.99" stroke="#CAB2D6" stroke-width="1.05" fill="none" stroke-linecap="round"/><rect x="32.15" y="450.99" width="6.3" height="6.3" stroke="#CAB2D6" stroke-width="1.05" fill="none" stroke-linecap="round"/>
<path d="M61.25 437.92L67.55 444.22M61.25 444.22L67.55 437.92" stroke="#CAB2D6" stroke-width="1.05" fill="none" stroke-linecap="round"/><rect x="61.25" y="437.92" width="6.3" height="6.3" stroke="#CAB2D6" stroke-width="1.05" fill="none" stroke-linecap="round"/>
<path d="M90.35 405.9L96.65 412.2M90.35 412.2L96.65 405.9" stroke="#CAB2D6" stroke-width="1.05" fill="none" stroke-linecap="round"/><rect x="90.35" y="405.9" width="6.3" height="6.3" stroke="#CAB2D6" stroke-width="1.05" fill="none" stroke-linecap="round"/>
<path d="M119.45 384.29L125.75 390.59M119.45 390.59L125.75 384.29" stroke="#CAB2D6" stroke-width="1.05" fill="none" stroke-linecap="round"/><rect x="119.45" y="384.29" width="6.3" height="6.3" stroke="#CAB2D6" stroke-width="1.05" fill="none" stroke-linecap="round"/>
<path d="M148.55 379.22L154.85 385.52M148.55 385.52L154.85 379.22" stroke="#CAB2D6" stroke-width="1.05" fill="none" stroke-linecap="round"/><rect x="148.55" y="379.22" width="6.3" height="6.3" stroke="#CAB2D6" stroke-width="1.05" fill="none" stroke-linecap="round"/>
<path d="M177.65 379.22L183.95 385.52M177.65 385.52L183.95 379.22" stroke="#CAB2D6" stroke-width="1.05" fill="none" stroke-linecap="round"/><rect x="177.65" y="379.22" width="6.3" height="6.3" stroke="#CAB2D6" stroke-width="1.05" fill="none" stroke-linecap="round"/>
<path d="M32.15 396.56L38.45 402.86M32.15 402.86L38.45 396.56" stroke="#FB9A99" stroke-width="1.05" fill="none" stroke-linecap="round"/>
<path d="M61.25 391.23L67.55 397.53M61.25 397.53L67.55 391.23" stroke="#FB9A99" stroke-width="1.05" fill="none" stroke-linecap="round"/>
<path d="M90.35 389.23L96.65 395.53M90.35 395.53L96.65 389.23" stroke="#FB9A99" stroke-width="1.05" fill="none" stroke-linecap="round"/>
<path d="M119.45 383.62L125.75 389.92M119.45 389.92L125.75 383.62" stroke="#FB9A99" stroke-width="1.05" fill="none" stroke-linecap="round"/>
<path d="M148.55 379.22L154.85 385.52M148.55 385.52L154.85 379.22" stroke="#FB9A99" stroke-width="1.05" fill="none" stroke-linecap="round"/>
<path d="M177.65 375.22L183.95 381.52M177.65 381.52L183.95 375.22" stroke="#FB9A99" stroke-width="1.05" fill="none" stroke-linecap="round"/>
<rect x="32.15" y="470.6" width="6.3" height="6.3" stroke="#A6CEE3" stroke-width="1.05" fill="none" stroke-linecap="round"/>
<rect x="61.25" y="469.93" width="6.3" height="6.3" stroke="#A6CEE3" stroke-width="1.05" fill="none" stroke-linecap="round"/>
<rect x="90.35" y="461.93" width="6.3" height="6.3" stroke="#A6CEE3" stroke-width="1.05" fill="none" stroke-linecap="round"/>
<rect x="119.45" y="427.91" width="6.3" height="6.3" stroke="#A6CEE3" stroke-width="1.05" fill="none" stroke-linecap="round"/>
<rect x="148.55" y="376.55" width="6.3" height="6.3" stroke="#A6CEE3" stroke-width="1.05" fill="none" stroke-linecap="round"/>
<rect x="177.65" y="354.54" width="6.3" height="6.3" stroke="#A6CEE3" stroke-width="1.05" fill="none" stroke-linecap="round"/>
<circle cx="35.3" cy="419.06" r="3.15" stroke="#1F78B4" stroke-width="1.05" fill="none" stroke-linecap="round"/>
<circle cx="64.4" cy="402.65" r="3.15" stroke="#1F78B4" stroke-width="1.05" fill="none" stroke-linecap="round"/>
<circle cx="93.5" cy="379.7" r="3.15" stroke="#1F78B4" stroke-width="1.05" fill="none" stroke-linecap="round"/>
<circle cx="122.6" cy="369.7" r="3.15" stroke="#1F78B4" stroke-width="1.05" fill="none" stroke-linecap="round"/>
<circle cx="151.7" cy="365.3" r="3.15" stroke="#1F78B4" stroke-width="1.05" fill="none" stroke-linecap="round"/>
<circle cx="180.8" cy="364.9" r="3.15" stroke="#1F78B4" stroke-width="1.05" fill="none" stroke-linecap="round"/>
<polygon points="35.3,458.71 39.54,466.06 31.06,466.06" stroke="#B2DF8A" stroke-width="1.05" fill="none" stroke-linecap="round"/>
<polygon points="64.4,445.24 68.64,452.59 60.16,452.59" stroke="#B2DF8A" stroke-width="1.05" fill="none" stroke-linecap="round"/>
<polygon points="93.5,386.81 97.74,394.16 89.26,394.16" stroke="#B2DF8A" stroke-width="1.05" fill="none" stroke-linecap="round"/>
<polygon points="122.6,365.47 126.84,372.81 118.36,372.81" stroke="#B2DF8A" stroke-width="1.05" fill="none" stroke-linecap="round"/>
<polygon points="151.7,359.46 155.94,366.81 147.46,366.81" stroke="#B2DF8A" stroke-width="1.05" fill="none" stroke-linecap="round"/>
<polygon points="180.8,358.13 185.04,365.48 176.56,365.48" stroke="#B2DF8A" stroke-width="1.05" fill="none" stroke-linecap="round"/>
<polygon points="35.3,477.98 39.54,470.63 31.06,470.63" stroke="#FF7F00" stroke-width="1.05" fill="none" stroke-linecap="round"/>
<polygon points="64.4,476.25 68.64,468.9 60.16,468.9" stroke="#FF7F00" stroke-width="1.05" fill="none" stroke-linecap="round"/>
<polygon points="93.5,432.63 97.74,425.28 89.26,425.28" stroke="#FF7F00" stroke-width="1.05" fill="none" stroke-linecap="round"/>
<polygon points="122.6,408.61 126.84,401.27 118.36,401.27" stroke="#FF7F00" stroke-width="1.05" fill="none" stroke-linecap="round"/>
<polygon points="151.7,419.15 155.94,411.8 147.46,411.8" stroke="#FF7F00" stroke-width="1.05" fill="none" stroke-linecap="round"/>
<polygon points="180.8,423.95 185.04,416.61 176.56,416.61" stroke="#FF7F00" stroke-width="1.05" fill="none" stroke-linecap="round"/>
<polygon points="30.85,473.08 35.3,468.63 39.75,473.08 35.3,477.54" stroke="#FDBF6F" stroke-width="1.05" fill="none" stroke-linecap="round"/>
<polygon points="59.95,467.08 64.4,462.63 68.85,467.08 64.4,471.53" stroke="#FDBF6F" stroke-width="1.05" fill="none" stroke-linecap="round"/>
<polygon points="89.05,417.06 93.5,412.6 97.95,417.06 93.5,421.51" stroke="#FDBF6F" stroke-width="1.05" fill="none" stroke-linecap="round"/>
<polygon points="118.15,398.25 122.6,393.79 127.05,398.25 122.6,402.7" stroke="#FDBF6F" stroke-width="1.05" fill="none" stroke-linecap="round"/>
<polygon points="147.25,404.12 151.7,399.66 156.15,404.12 151.7,408.57" stroke="#FDBF6F" stroke-width="1.05" fill="none" stroke-linecap="round"/>
<polygon points="176.35,405.58 180.8,401.13 185.25,405.58 180.8,410.04" stroke="#FDBF6F" stroke-width="1.05" fill="none" stroke-linecap="round"/>
<path d="M30.85 473.08H39.75M35.3 468.63V477.54" stroke="#33A02C" stroke-width="1.05" fill="none" stroke-linecap="round"/>
<path d="M59.95 468.41H68.85M64.4 463.96V472.87" stroke="#33A02C" stroke-width="1.05" fill="none" stroke-linecap="round"/>
<path d="M89.05 406.38H97.95M93.5 401.93V410.84" stroke="#33A02C" stroke-width="1.05" fill="none" stroke-linecap="round"/>
<path d="M118.15 368.36H127.05M122.6 363.91V372.82" stroke="#33A02C" stroke-width="1.05" fill="none" stroke-linecap="round"/>
<path d="M147.25 353.16H156.15M151.7 348.7V357.61" stroke="#33A02C" stroke-width="1.05" fill="none" stroke-linecap="round"/>
<path d="M176.35 350.62H185.25M180.8 346.17V355.08" stroke="#33A02C" stroke-width="1.05" fill="none" stroke-linecap="round"/>
<rect x="28.5" y="334.3" width="159" height="145.7" fill="none" stroke="#333333" stroke-width="1.07"/>
</g>
<g>
<rect x="195.5" y="334.3" width="159" height="145.7" fill="#fff"/>
<line x1="216.85" y1="334.3" x2="216.85" y2="480" stroke="#EBEBEB" stroke-width="0.9"/>
<line x1="245.95" y1="334.3" x2="245.95" y2="480" stroke="#EBEBEB" stroke-width="0.9"/>
<line x1="275.05" y1="334.3" x2="275.05" y2="480" stroke="#EBEBEB" stroke-width="0.9"/>
<line x1="304.15" y1="334.3" x2="304.15" y2="480" stroke="#EBEBEB" stroke-width="0.9"/>
<line x1="333.25" y1="334.3" x2="333.25" y2="480" stroke="#EBEBEB" stroke-width="0.9"/>
<line x1="195.5" y1="457.08" x2="354.5" y2="457.08" stroke="#EBEBEB" stroke-width="0.9"/>
<line x1="195.5" y1="423.73" x2="354.5" y2="423.73" stroke="#EBEBEB" stroke-width="0.9"/>
<line x1="195.5" y1="390.38" x2="354.5" y2="390.38" stroke="#EBEBEB" stroke-width="0.9"/>
<line x1="195.5" y1="357.03" x2="354.5" y2="357.03" stroke="#EBEBEB" stroke-width="0.9"/>
<line x1="202.3" y1="334.3" x2="202.3" y2="480" stroke="#EBEBEB" stroke-width="1.1"/>
<line x1="231.4" y1="334.3" x2="231.4" y2="480" stroke="#EBEBEB" stroke-width="1.1"/>
<line x1="260.5" y1="334.3" x2="260.5" y2="480" stroke="#EBEBEB" stroke-width="1.1"/>
<line x1="289.6" y1="334.3" x2="289.6" y2="480" stroke="#EBEBEB" stroke-width="1.1"/>
<line x1="318.7" y1="334.3" x2="318.7" y2="480" stroke="#EBEBEB" stroke-width="1.1"/>
<line x1="347.8" y1="334.3" x2="347.8" y2="480" stroke="#EBEBEB" stroke-width="1.1"/>
<line x1="195.5" y1="473.75" x2="354.5" y2="473.75" stroke="#EBEBEB" stroke-width="1.1"/>
<line x1="195.5" y1="440.4" x2="354.5" y2="440.4" stroke="#EBEBEB" stroke-width="1.1"/>
<line x1="195.5" y1="407.05" x2="354.5" y2="407.05" stroke="#EBEBEB" stroke-width="1.1"/>
<line x1="195.5" y1="373.7" x2="354.5" y2="373.7" stroke="#EBEBEB" stroke-width="1.1"/>
<line x1="195.5" y1="340.35" x2="354.5" y2="340.35" stroke="#EBEBEB" stroke-width="1.1"/>
<polyline points="202.3,473.75 231.4,473.08 260.5,464.68 289.6,430.8 318.7,378.24 347.8,356.09" fill="none" stroke="#A6CEE3" stroke-width="2.1" stroke-dasharray="7 7" stroke-linejoin="round"/>
<polyline points="202.3,417.06 231.4,400.65 260.5,379.04 289.6,369.16 318.7,364.76 347.8,364.1" fill="none" stroke="#1F78B4" stroke-width="2.1" stroke-dasharray="7 7" stroke-linejoin="round"/>
<polyline points="202.3,464.55 231.4,450.41 260.5,391.71 289.6,369.7 318.7,362.36 347.8,359.43" fill="none" stroke="#B2DF8A" stroke-width="2.1" stroke-dasharray="7 7" stroke-linejoin="round"/>
<polyline points="202.3,473.08 231.4,466.41 260.5,403.05 289.6,368.5 318.7,354.09 347.8,350.76" fill="none" stroke="#33A02C" stroke-width="2.1" stroke-dasharray="7 7" stroke-linejoin="round"/>
<polyline points="202.3,399.71 231.4,394.38 260.5,392.38 289.6,386.77 318.7,382.37 347.8,378.37" fill="none" stroke="#FB9A99" stroke-width="2.1" stroke-dasharray="7 7" stroke-linejoin="round"/>
<polyline points="202.3,473.08 231.4,463.08 260.5,413.72 289.6,397.71 318.7,404.12 347.8,405.05" fill="none" stroke="#FDBF6F" stroke-width="2.1" stroke-dasharray="7 7" stroke-linejoin="round"/>
<polyline points="202.3,473.08 231.4,471.35 260.5,427.73 289.6,402.38 318.7,413.05 347.8,417.06" fill="none" stroke="#FF7F00" stroke-width="2.1" stroke-dasharray="7 7" stroke-linejoin="round"/>
<polyline points="202.3,454.67 231.4,441.33 260.5,409.05 289.6,387.17 318.7,382.1 347.8,383.71" fill="none" stroke="#CAB2D6" stroke-width="2.1" stroke-dasharray="7 7" stroke-linejoin="round"/>
<polyline points="202.3,467.48 231.4,442.4 260.5,383.71 289.6,356.76 318.7,347.42 347.8,347.02" fill="none" stroke="#E31A1C" stroke-width="2.1" stroke-dasharray="7 7" stroke-linejoin="round"/>
<path d="M199.15 464.33L205.45 470.63M199.15 470.63L205.45 464.33M197.85 467.48H206.75M202.3 463.03V471.93" stroke="#E31A1C" stroke-width="1.05" fill="none" stroke-linecap="round"/>
<path d="M228.25 439.25L234.55 445.55M228.25 445.55L234.55 439.25M226.95 442.4H235.85M231.4 437.95V446.86" stroke="#E31A1C" stroke-width="1.05" fill="none" stroke-linecap="round"/>
<path d="M257.35 380.56L263.65 386.86M257.35 386.86L263.65 380.56M256.05 383.71H264.95M260.5 379.25V388.16" stroke="#E31A1C" stroke-width="1.05" fill="none" stroke-linecap="round"/>
<path d="M286.45 353.61L292.75 359.91M286.45 359.91L292.75 353.61M285.15 356.76H294.05M289.6 352.3V361.21" stroke="#E31A1C" stroke-width="1.05" fill="none" stroke-linecap="round"/>
<path d="M315.55 344.27L321.85 350.57M315.55 350.57L321.85 344.27M314.25 347.42H323.15M318.7 342.97V351.87" stroke="#E31A1C" stroke-width="1.05" fill="none" stroke-linecap="round"/>
<path d="M344.65 343.87L350.95 350.17M344.65 350.17L350.95 343.87M343.35 347.02H352.25M347.8 342.57V351.47" stroke="#E31A1C" stroke-width="1.05" fill="none" stroke-linecap="round"/>
<path d="M199.15 451.52L205.45 457.82M199.15 457.82L205.45 451.52" stroke="#CAB2D6" stroke-width="1.05" fill="none" stroke-linecap="round"/><rect x="199.15" y="451.52" width="6.3" height="6.3" stroke="#CAB2D6" stroke-width="1.05" fill="none" stroke-linecap="round"/>
<path d="M228.25 438.18L234.55 444.48M228.25 444.48L234.55 438.18" stroke="#CAB2D6" stroke-width="1.05" fill="none" stroke-linecap="round"/><rect x="228.25" y="438.18" width="6.3" height="6.3" stroke="#CAB2D6" stroke-width="1.05" fill="none" stroke-linecap="round"/>
<path d="M257.35 405.9L263.65 412.2M257.35 412.2L263.65 405.9" stroke="#CAB2D6" stroke-width="1.05" fill="none" stroke-linecap="round"/><rect x="257.35" y="405.9" width="6.3" height="6.3" stroke="#CAB2D6" stroke-width="1.05" fill="none" stroke-linecap="round"/>
<path d="M286.45 384.02L292.75 390.32M286.45 390.32L292.75 384.02" stroke="#CAB2D6" stroke-width="1.05" fill="none" stroke-linecap="round"/><rect x="286.45" y="384.02" width="6.3" height="6.3" stroke="#CAB2D6" stroke-width="1.05" fill="none" stroke-linecap="round"/>
<path d="M315.55 378.95L321.85 385.25M315.55 385.25L321.85 378.95" stroke="#CAB2D6" stroke-width="1.05" fill="none" stroke-linecap="round"/><rect x="315.55" y="378.95" width="6.3" height="6.3" stroke="#CAB2D6" stroke-width="1.05" fill="none" stroke-linecap="round"/>
<path d="M344.65 380.56L350.95 386.86M344.65 386.86L350.95 380.56" stroke="#CAB2D6" stroke-width="1.05" fill="none" stroke-linecap="round"/><rect x="344.65" y="380.56" width="6.3" height="6.3" stroke="#CAB2D6" stroke-width="1.05" fill="none" stroke-linecap="round"/>
<path d="M199.15 396.56L205.45 402.86M199.15 402.86L205.45 396.56" stroke="#FB9A99" stroke-width="1.05" fill="none" stroke-linecap="round"/>
<path d="M228.25 391.23L234.55 397.53M228.25 397.53L234.55 391.23" stroke="#FB9A99" stroke-width="1.05" fill="none" stroke-linecap="round"/>
<path d="M257.35 389.23L263.65 395.53M257.35 395.53L263.65 389.23" stroke="#FB9A99" stroke-width="1.05" fill="none" stroke-linecap="round"/>
<path d="M286.45 383.62L292.75 389.92M286.45 389.92L292.75 383.62" stroke="#FB9A99" stroke-width="1.05" fill="none" stroke-linecap="round"/>
<path d="M315.55 379.22L321.85 385.52M315.55 385.52L321.85 379.22" stroke="#FB9A99" stroke-width="1.05" fill="none" stroke-linecap="round"/>
<path d="M344.65 375.22L350.95 381.52M344.65 381.52L350.95 375.22" stroke="#FB9A99" stroke-width="1.05" fill="none" stroke-linecap="round"/>
<rect x="199.15" y="470.6" width="6.3" height="6.3" stroke="#A6CEE3" stroke-width="1.05" fill="none" stroke-linecap="round"/>
<rect x="228.25" y="469.93" width="6.3" height="6.3" stroke="#A6CEE3" stroke-width="1.05" fill="none" stroke-linecap="round"/>
<rect x="257.35" y="461.53" width="6.3" height="6.3" stroke="#A6CEE3" stroke-width="1.05" fill="none" stroke-linecap="round"/>
<rect x="286.45" y="427.65" width="6.3" height="6.3" stroke="#A6CEE3" stroke-width="1.05" fill="none" stroke-linecap="round"/>
<rect x="315.55" y="375.09" width="6.3" height="6.3" stroke="#A6CEE3" stroke-width="1.05" fill="none" stroke-linecap="round"/>
<rect x="344.65" y="352.94" width="6.3" height="6.3" stroke="#A6CEE3" stroke-width="1.05" fill="none" stroke-linecap="round"/>
<circle cx="202.3" cy="417.06" r="3.15" stroke="#1F78B4" stroke-width="1.05" fill="none" stroke-linecap="round"/>
<circle cx="231.4" cy="400.65" r="3.15" stroke="#1F78B4" stroke-width="1.05" fill="none" stroke-linecap="round"/>
<circle cx="260.5" cy="379.04" r="3.15" stroke="#1F78B4" stroke-width="1.05" fill="none" stroke-linecap="round"/>
<circle cx="289.6" cy="369.16" r="3.15" stroke="#1F78B4" stroke-width="1.05" fill="none" stroke-linecap="round"/>
<circle cx="318.7" cy="364.76" r="3.15" stroke="#1F78B4" stroke-width="1.05" fill="none" stroke-linecap="round"/>
<circle cx="347.8" cy="364.1" r="3.15" stroke="#1F78B4" stroke-width="1.05" fill="none" stroke-linecap="round"/>
<polygon points="202.3,459.65 206.54,466.99 198.06,466.99" stroke="#B2DF8A" stroke-width="1.05" fill="none" stroke-linecap="round"/>
<polygon points="231.4,445.51 235.64,452.85 227.16,452.85" stroke="#B2DF8A" stroke-width="1.05" fill="none" stroke-linecap="round"/>
<polygon points="260.5,386.81 264.74,394.16 256.26,394.16" stroke="#B2DF8A" stroke-width="1.05" fill="none" stroke-linecap="round"/>
<polygon points="289.6,364.8 293.84,372.15 285.36,372.15" stroke="#B2DF8A" stroke-width="1.05" fill="none" stroke-linecap="round"/>
<polygon points="318.7,357.46 322.94,364.81 314.46,364.81" stroke="#B2DF8A" stroke-width="1.05" fill="none" stroke-linecap="round"/>
<polygon points="347.8,354.53 352.04,361.88 343.56,361.88" stroke="#B2DF8A" stroke-width="1.05" fill="none" stroke-linecap="round"/>
<polygon points="202.3,477.98 206.54,470.63 198.06,470.63" stroke="#FF7F00" stroke-width="1.05" fill="none" stroke-linecap="round"/>
<polygon points="231.4,476.25 235.64,468.9 227.16,468.9" stroke="#FF7F00" stroke-width="1.05" fill="none" stroke-linecap="round"/>
<polygon points="260.5,432.63 264.74,425.28 256.26,425.28" stroke="#FF7F00" stroke-width="1.05" fill="none" stroke-linecap="round"/>
<polygon points="289.6,407.28 293.84,399.93 285.36,399.93" stroke="#FF7F00" stroke-width="1.05" fill="none" stroke-linecap="round"/>
<polygon points="318.7,417.95 322.94,410.6 314.46,410.6" stroke="#FF7F00" stroke-width="1.05" fill="none" stroke-linecap="round"/>
<polygon points="347.8,421.95 352.04,414.61 343.56,414.61" stroke="#FF7F00" stroke-width="1.05" fill="none" stroke-linecap="round"/>
<polygon points="197.85,473.08 202.3,468.63 206.75,473.08 202.3,477.54" stroke="#FDBF6F" stroke-width="1.05" fill="none" stroke-linecap="round"/>
<polygon points="226.95,463.08 231.4,458.62 235.85,463.08 231.4,467.53" stroke="#FDBF6F" stroke-width="1.05" fill="none" stroke-linecap="round"/>
<polygon points="256.05,413.72 260.5,409.27 264.95,413.72 260.5,418.17" stroke="#FDBF6F" stroke-width="1.05" fill="none" stroke-linecap="round"/>
<polygon points="285.15,397.71 289.6,393.26 294.05,397.71 289.6,402.17" stroke="#FDBF6F" stroke-width="1.05" fill="none" stroke-linecap="round"/>
<polygon points="314.25,404.12 318.7,399.66 323.15,404.12 318.7,408.57" stroke="#FDBF6F" stroke-width="1.05" fill="none" stroke-linecap="round"/>
<polygon points="343.35,405.05 347.8,400.59 352.25,405.05 347.8,409.5" stroke="#FDBF6F" stroke-width="1.05" fill="none" stroke-linecap="round"/>
<path d="M197.85 473.08H206.75M202.3 468.63V477.54" stroke="#33A02C" stroke-width="1.05" fill="none" stroke-linecap="round"/>
<path d="M226.95 466.41H235.85M231.4 461.96V470.87" stroke="#33A02C" stroke-width="1.05" fill="none" stroke-linecap="round"/>
<path d="M256.05 403.05H264.95M260.5 398.59V407.5" stroke="#33A02C" stroke-width="1.05" fill="none" stroke-linecap="round"/>
<path d="M285.15 368.5H294.05M289.6 364.04V372.95" stroke="#33A02C" stroke-width="1.05" fill="none" stroke-linecap="round"/>
<path d="M314.25 354.09H323.15M318.7 349.64V358.54" stroke="#33A02C" stroke-width="1.05" fill="none" stroke-linecap="round"/>
<path d="M343.35 350.76H352.25M347.8 346.3V355.21" stroke="#33A02C" stroke-width="1.05" fill="none" stroke-linecap="round"/>
<rect x="195.5" y="334.3" width="159" height="145.7" fill="none" stroke="#333333" stroke-width="1.07"/>
</g>
<g>
<rect x="362.1" y="334.3" width="159" height="145.7" fill="#fff"/>
<line x1="383.45" y1="334.3" x2="383.45" y2="480" stroke="#EBEBEB" stroke-width="0.9"/>
<line x1="412.55" y1="334.3" x2="412.55" y2="480" stroke="#EBEBEB" stroke-width="0.9"/>
<line x1="441.65" y1="334.3" x2="441.65" y2="480" stroke="#EBEBEB" stroke-width="0.9"/>
<line x1="470.75" y1="334.3" x2="470.75" y2="480" stroke="#EBEBEB" stroke-width="0.9"/>
<line x1="499.85" y1="334.3" x2="499.85" y2="480" stroke="#EBEBEB" stroke-width="0.9"/>
<line x1="362.1" y1="457.08" x2="521.1" y2="457.08" stroke="#EBEBEB" stroke-width="0.9"/>
<line x1="362.1" y1="423.73" x2="521.1" y2="423.73" stroke="#EBEBEB" stroke-width="0.9"/>
<line x1="362.1" y1="390.38" x2="521.1" y2="390.38" stroke="#EBEBEB" stroke-width="0.9"/>
<line x1="362.1" y1="357.03" x2="521.1" y2="357.03" stroke="#EBEBEB" stroke-width="0.9"/>
<line x1="368.9" y1="334.3" x2="368.9" y2="480" stroke="#EBEBEB" stroke-width="1.1"/>
<line x1="398" y1="334.3" x2="398" y2="480" stroke="#EBEBEB" stroke-width="1.1"/>
<line x1="427.1" y1="334.3" x2="427.1" y2="480" stroke="#EBEBEB" stroke-width="1.1"/>
<line x1="456.2" y1="334.3" x2="456.2" y2="480" stroke="#EBEBEB" stroke-width="1.1"/>
<line x1="485.3" y1="334.3" x2="485.3" y2="480" stroke="#EBEBEB" stroke-width="1.1"/>
<line x1="514.4" y1="334.3" x2="514.4" y2="480" stroke="#EBEBEB" stroke-width="1.1"/>
<line x1="362.1" y1="473.75" x2="521.1" y2="473.75" stroke="#EBEBEB" stroke-width="1.1"/>
<line x1="362.1" y1="440.4" x2="521.1" y2="440.4" stroke="#EBEBEB" stroke-width="1.1"/>
<line x1="362.1" y1="407.05" x2="521.1" y2="407.05" stroke="#EBEBEB" stroke-width="1.1"/>
<line x1="362.1" y1="373.7" x2="521.1" y2="373.7" stroke="#EBEBEB" stroke-width="1.1"/>
<line x1="362.1" y1="340.35" x2="521.1" y2="340.35" stroke="#EBEBEB" stroke-width="1.1"/>
<polyline points="368.9,473.75 398,473.75 427.1,463.08 456.2,424.93 485.3,384.37 514.4,370.23" fill="none" stroke="#A6CEE3" stroke-width="2.1" stroke-dasharray="7 7" stroke-linejoin="round"/>
<polyline points="368.9,472.42 398,463.75 427.1,419.72 456.2,372.37 485.3,355.02 514.4,350.36" fill="none" stroke="#1F78B4" stroke-width="2.1" stroke-dasharray="7 7" stroke-linejoin="round"/>
<polyline points="368.9,473.75 398,472.42 427.1,457.08 456.2,392.38 485.3,363.03 514.4,359.03" fill="none" stroke="#B2DF8A" stroke-width="2.1" stroke-dasharray="7 7" stroke-linejoin="round"/>
<polyline points="368.9,473.75 398,471.48 427.1,449.74 456.2,391.04 485.3,361.69 514.4,355.69" fill="none" stroke="#33A02C" stroke-width="2.1" stroke-dasharray="7 7" stroke-linejoin="round"/>
<polyline points="368.9,419.72 398,407.05 427.1,386.11 456.2,377.97 485.3,376.37 514.4,378.5" fill="none" stroke="#FB9A99" stroke-width="2.1" stroke-dasharray="7 7" stroke-linejoin="round"/>
<polyline points="368.9,473.08 398,468.41 427.1,419.06 456.2,365.03 485.3,353.69 514.4,350.09" fill="none" stroke="#FDBF6F" stroke-width="2.1" stroke-dasharray="7 7" stroke-linejoin="round"/>
<polyline points="368.9,473.08 398,470.42 427.1,447.07 456.2,389.71 485.3,368.36 514.4,369.7" fill="none" stroke="#FF7F00" stroke-width="2.1" stroke-dasharray="7 7" stroke-linejoin="round"/>
<polyline points="368.9,473.08 398,465.08 427.1,428.39 456.2,383.04 485.3,360.36 514.4,353.02" fill="none" stroke="#CAB2D6" stroke-width="2.1" stroke-dasharray="7 7" stroke-linejoin="round"/>
<polyline points="368.9,473.08 398,460.81 427.1,424.39 456.2,379.44 485.3,358.23 514.4,352.36" fill="none" stroke="#E31A1C" stroke-width="2.1" stroke-dasharray="7 7" stroke-linejoin="round"/>
<path d="M365.75 469.93L372.05 476.23M365.75 476.23L372.05 469.93M364.45 473.08H373.35M368.9 468.63V477.54" stroke="#E31A1C" stroke-width="1.05" fill="none" stroke-linecap="round"/>
<path d="M394.85 457.66L401.15 463.96M394.85 463.96L401.15 457.66M393.55 460.81H402.45M398 456.36V465.26" stroke="#E31A1C" stroke-width="1.05" fill="none" stroke-linecap="round"/>
<path d="M423.95 421.24L430.25 427.54M423.95 427.54L430.25 421.24M422.65 424.39H431.55M427.1 419.94V428.85" stroke="#E31A1C" stroke-width="1.05" fill="none" stroke-linecap="round"/>
<path d="M453.05 376.29L459.35 382.59M453.05 382.59L459.35 376.29M451.75 379.44H460.65M456.2 374.98V383.89" stroke="#E31A1C" stroke-width="1.05" fill="none" stroke-linecap="round"/>
<path d="M482.15 355.08L488.45 361.38M482.15 361.38L488.45 355.08M480.85 358.23H489.75M485.3 353.77V362.68" stroke="#E31A1C" stroke-width="1.05" fill="none" stroke-linecap="round"/>
<path d="M511.25 349.21L517.55 355.51M511.25 355.51L517.55 349.21M509.95 352.36H518.85M514.4 347.9V356.81" stroke="#E31A1C" stroke-width="1.05" fill="none" stroke-linecap="round"/>
<path d="M365.75 469.93L372.05 476.23M365.75 476.23L372.05 469.93" stroke="#CAB2D6" stroke-width="1.05" fill="none" stroke-linecap="round"/><rect x="365.75" y="469.93" width="6.3" height="6.3" stroke="#CAB2D6" stroke-width="1.05" fill="none" stroke-linecap="round"/>
<path d="M394.85 461.93L401.15 468.23M394.85 468.23L401.15 461.93" stroke="#CAB2D6" stroke-width="1.05" fill="none" stroke-linecap="round"/><rect x="394.85" y="461.93" width="6.3" height="6.3" stroke="#CAB2D6" stroke-width="1.05" fill="none" stroke-linecap="round"/>
<path d="M423.95 425.24L430.25 431.54M423.95 431.54L430.25 425.24" stroke="#CAB2D6" stroke-width="1.05" fill="none" stroke-linecap="round"/><rect x="423.95" y="425.24" width="6.3" height="6.3" stroke="#CAB2D6" stroke-width="1.05" fill="none" stroke-linecap="round"/>
<path d="M453.05 379.89L459.35 386.19M453.05 386.19L459.35 379.89" stroke="#CAB2D6" stroke-width="1.05" fill="none" stroke-linecap="round"/><rect x="453.05" y="379.89" width="6.3" height="6.3" stroke="#CAB2D6" stroke-width="1.05" fill="none" stroke-linecap="round"/>
<path d="M482.15 357.21L488.45 363.51M482.15 363.51L488.45 357.21" stroke="#CAB2D6" stroke-width="1.05" fill="none" stroke-linecap="round"/><rect x="482.15" y="357.21" width="6.3" height="6.3" stroke="#CAB2D6" stroke-width="1.05" fill="none" stroke-linecap="round"/>
<path d="M511.25 349.87L517.55 356.17M511.25 356.17L517.55 349.87" stroke="#CAB2D6" stroke-width="1.05" fill="none" stroke-linecap="round"/><rect x="511.25" y="349.87" width="6.3" height="6.3" stroke="#CAB2D6" stroke-width="1.05" fill="none" stroke-linecap="round"/>
<path d="M365.75 416.57L372.05 422.87M365.75 422.87L372.05 416.57" stroke="#FB9A99" stroke-width="1.05" fill="none" stroke-linecap="round"/>
<path d="M394.85 403.9L401.15 410.2M394.85 410.2L401.15 403.9" stroke="#FB9A99" stroke-width="1.05" fill="none" stroke-linecap="round"/>
<path d="M423.95 382.96L430.25 389.26M423.95 389.26L430.25 382.96" stroke="#FB9A99" stroke-width="1.05" fill="none" stroke-linecap="round"/>
<path d="M453.05 374.82L459.35 381.12M453.05 381.12L459.35 374.82" stroke="#FB9A99" stroke-width="1.05" fill="none" stroke-linecap="round"/>
<path d="M482.15 373.22L488.45 379.52M482.15 379.52L488.45 373.22" stroke="#FB9A99" stroke-width="1.05" fill="none" stroke-linecap="round"/>
<path d="M511.25 375.35L517.55 381.65M511.25 381.65L517.55 375.35" stroke="#FB9A99" stroke-width="1.05" fill="none" stroke-linecap="round"/>
<rect x="365.75" y="470.6" width="6.3" height="6.3" stroke="#A6CEE3" stroke-width="1.05" fill="none" stroke-linecap="round"/>
<rect x="394.85" y="470.6" width="6.3" height="6.3" stroke="#A6CEE3" stroke-width="1.05" fill="none" stroke-linecap="round"/>
<rect x="423.95" y="459.93" width="6.3" height="6.3" stroke="#A6CEE3" stroke-width="1.05" fill="none" stroke-linecap="round"/>
<rect x="453.05" y="421.78" width="6.3" height="6.3" stroke="#A6CEE3" stroke-width="1.05" fill="none" stroke-linecap="round"/>
<rect x="482.15" y="381.22" width="6.3" height="6.3" stroke="#A6CEE3" stroke-width="1.05" fill="none" stroke-linecap="round"/>
<rect x="511.25" y="367.08" width="6.3" height="6.3" stroke="#A6CEE3" stroke-width="1.05" fill="none" stroke-linecap="round"/>
<circle cx="368.9" cy="472.42" r="3.15" stroke="#1F78B4" stroke-width="1.05" fill="none" stroke-linecap="round"/>
<circle cx="398" cy="463.75" r="3.15" stroke="#1F78B4" stroke-width="1.05" fill="none" stroke-linecap="round"/>
<circle cx="427.1" cy="419.72" r="3.15" stroke="#1F78B4" stroke-width="1.05" fill="none" stroke-linecap="round"/>
<circle cx="456.2" cy="372.37" r="3.15" stroke="#1F78B4" stroke-width="1.05" fill="none" stroke-linecap="round"/>
<circle cx="485.3" cy="355.02" r="3.15" stroke="#1F78B4" stroke-width="1.05" fill="none" stroke-linecap="round"/>
<circle cx="514.4" cy="350.36" r="3.15" stroke="#1F78B4" stroke-width="1.05" fill="none" stroke-linecap="round"/>
<polygon points="368.9,468.85 373.14,476.2 364.66,476.2" stroke="#B2DF8A" stroke-width="1.05" fill="none" stroke-linecap="round"/>
<polygon points="398,467.52 402.24,474.87 393.76,474.87" stroke="#B2DF8A" stroke-width="1.05" fill="none" stroke-linecap="round"/>
<polygon points="427.1,452.18 431.34,459.52 422.86,459.52" stroke="#B2DF8A" stroke-width="1.05" fill="none" stroke-linecap="round"/>
<polygon points="456.2,387.48 460.44,394.83 451.96,394.83" stroke="#B2DF8A" stroke-width="1.05" fill="none" stroke-linecap="round"/>
<polygon points="485.3,358.13 489.54,365.48 481.06,365.48" stroke="#B2DF8A" stroke-width="1.05" fill="none" stroke-linecap="round"/>
<polygon points="514.4,354.13 518.64,361.48 510.16,361.48" stroke="#B2DF8A" stroke-width="1.05" fill="none" stroke-linecap="round"/>
<polygon points="368.9,477.98 373.14,470.63 364.66,470.63" stroke="#FF7F00" stroke-width="1.05" fill="none" stroke-linecap="round"/>
<polygon points="398,475.31 402.24,467.97 393.76,467.97" stroke="#FF7F00" stroke-width="1.05" fill="none" stroke-linecap="round"/>
<polygon points="427.1,451.97 431.34,444.62 422.86,444.62" stroke="#FF7F00" stroke-width="1.05" fill="none" stroke-linecap="round"/>
<polygon points="456.2,394.61 460.44,387.26 451.96,387.26" stroke="#FF7F00" stroke-width="1.05" fill="none" stroke-linecap="round"/>
<polygon points="485.3,373.26 489.54,365.91 481.06,365.91" stroke="#FF7F00" stroke-width="1.05" fill="none" stroke-linecap="round"/>
<polygon points="514.4,374.6 518.64,367.25 510.16,367.25" stroke="#FF7F00" stroke-width="1.05" fill="none" stroke-linecap="round"/>
<polygon points="364.45,473.08 368.9,468.63 373.35,473.08 368.9,477.54" stroke="#FDBF6F" stroke-width="1.05" fill="none" stroke-linecap="round"/>
<polygon points="393.55,468.41 398,463.96 402.45,468.41 398,472.87" stroke="#FDBF6F" stroke-width="1.05" fill="none" stroke-linecap="round"/>
<polygon points="422.65,419.06 427.1,414.6 431.55,419.06 427.1,423.51" stroke="#FDBF6F" stroke-width="1.05" fill="none" stroke-linecap="round"/>
<polygon points="451.75,365.03 456.2,360.57 460.65,365.03 456.2,369.48" stroke="#FDBF6F" stroke-width="1.05" fill="none" stroke-linecap="round"/>
<polygon points="480.85,353.69 485.3,349.24 489.75,353.69 485.3,358.14" stroke="#FDBF6F" stroke-width="1.05" fill="none" stroke-linecap="round"/>
<polygon points="509.95,350.09 514.4,345.63 518.85,350.09 514.4,354.54" stroke="#FDBF6F" stroke-width="1.05" fill="none" stroke-linecap="round"/>
<path d="M364.45 473.75H373.35M368.9 469.3V478.2" stroke="#33A02C" stroke-width="1.05" fill="none" stroke-linecap="round"/>
<path d="M393.55 471.48H402.45M398 467.03V475.94" stroke="#33A02C" stroke-width="1.05" fill="none" stroke-linecap="round"/>
<path d="M422.65 449.74H431.55M427.1 445.28V454.19" stroke="#33A02C" stroke-width="1.05" fill="none" stroke-linecap="round"/>
<path d="M451.75 391.04H460.65M456.2 386.59V395.5" stroke="#33A02C" stroke-width="1.05" fill="none" stroke-linecap="round"/>
<path d="M480.85 361.69H489.75M485.3 357.24V366.15" stroke="#33A02C" stroke-width="1.05" fill="none" stroke-linecap="round"/>
<path d="M509.95 355.69H518.85M514.4 351.24V360.15" stroke="#33A02C" stroke-width="1.05" fill="none" stroke-linecap="round"/>
<rect x="362.1" y="334.3" width="159" height="145.7" fill="none" stroke="#333333" stroke-width="1.07"/>
</g>
<line x1="24.8" y1="166.75" x2="28.5" y2="166.75" stroke="#333333" stroke-width="1.4"/>
<text x="21.8" y="170.95" font-size="11.1" fill="#444" stroke="#444" text-anchor="end">0.00</text>
<line x1="24.8" y1="133.4" x2="28.5" y2="133.4" stroke="#333333" stroke-width="1.4"/>
<text x="21.8" y="137.6" font-size="11.1" fill="#444" stroke="#444" text-anchor="end">0.25</text>
<line x1="24.8" y1="100.05" x2="28.5" y2="100.05" stroke="#333333" stroke-width="1.4"/>
<text x="21.8" y="104.25" font-size="11.1" fill="#444" stroke="#444" text-anchor="end">0.50</text>
<line x1="24.8" y1="66.7" x2="28.5" y2="66.7" stroke="#333333" stroke-width="1.4"/>
<text x="21.8" y="70.9" font-size="11.1" fill="#444" stroke="#444" text-anchor="end">0.75</text>
<line x1="24.8" y1="33.35" x2="28.5" y2="33.35" stroke="#333333" stroke-width="1.4"/>
<text x="21.8" y="37.55" font-size="11.1" fill="#444" stroke="#444" text-anchor="end">1.00</text>
<line x1="24.8" y1="320.25" x2="28.5" y2="320.25" stroke="#333333" stroke-width="1.4"/>
<text x="21.8" y="324.45" font-size="11.1" fill="#444" stroke="#444" text-anchor="end">0.00</text>
<line x1="24.8" y1="286.9" x2="28.5" y2="286.9" stroke="#333333" stroke-width="1.4"/>
<text x="21.8" y="291.1" font-size="11.1" fill="#444" stroke="#444" text-anchor="end">0.25</text>
<line x1="24.8" y1="253.55" x2="28.5" y2="253.55" stroke="#333333" stroke-width="1.4"/>
<text x="21.8" y="257.75" font-size="11.1" fill="#444" stroke="#444" text-anchor="end">0.50</text>
<line x1="24.8" y1="220.2" x2="28.5" y2="220.2" stroke="#333333" stroke-width="1.4"/>
<text x="21.8" y="224.4" font-size="11.1" fill="#444" stroke="#444" text-anchor="end">0.75</text>
<line x1="24.8" y1="186.85" x2="28.5" y2="186.85" stroke="#333333" stroke-width="1.4"/>
<text x="21.8" y="191.05" font-size="11.1" fill="#444" stroke="#444" text-anchor="end">1.00</text>
<line x1="24.8" y1="473.75" x2="28.5" y2="473.75" stroke="#333333" stroke-width="1.4"/>
<text x="21.8" y="477.95" font-size="11.1" fill="#444" stroke="#444" text-anchor="end">0.00</text>
<line x1="24.8" y1="440.4" x2="28.5" y2="440.4" stroke="#333333" stroke-width="1.4"/>
<text x="21.8" y="444.6" font-size="11.1" fill="#444" stroke="#444" text-anchor="end">0.25</text>
<line x1="24.8" y1="407.05" x2="28.5" y2="407.05" stroke="#333333" stroke-width="1.4"/>
<text x="21.8" y="411.25" font-size="11.1" fill="#444" stroke="#444" text-anchor="end">0.50</text>
<line x1="24.8" y1="373.7" x2="28.5" y2="373.7" stroke="#333333" stroke-width="1.4"/>
<text x="21.8" y="377.9" font-size="11.1" fill="#444" stroke="#444" text-anchor="end">0.75</text>
<line x1="24.8" y1="340.35" x2="28.5" y2="340.35" stroke="#333333" stroke-width="1.4"/>
<text x="21.8" y="344.55" font-size="11.1" fill="#444" stroke="#444" text-anchor="end">1.00</text>
<line x1="35.3" y1="480" x2="35.3" y2="484" stroke="#333333" stroke-width="1.4"/>
<text x="35.3" y="494.8" font-size="11.1" fill="#444" stroke="#444" text-anchor="middle">0</text>
<line x1="64.4" y1="480" x2="64.4" y2="484" stroke="#333333" stroke-width="1.4"/>
<text x="64.4" y="494.8" font-size="11.1" fill="#444" stroke="#444" text-anchor="middle">1</text>
<line x1="93.5" y1="480" x2="93.5" y2="484" stroke="#333333" stroke-width="1.4"/>
<text x="93.5" y="494.8" font-size="11.1" fill="#444" stroke="#444" text-anchor="middle">2</text>
<line x1="122.6" y1="480" x2="122.6" y2="484" stroke="#333333" stroke-width="1.4"/>
<text x="122.6" y="494.8" font-size="11.1" fill="#444" stroke="#444" text-anchor="middle">3</text>
<line x1="151.7" y1="480" x2="151.7" y2="484" stroke="#333333" stroke-width="1.4"/>
<text x="151.7" y="494.8" font-size="11.1" fill="#444" stroke="#444" text-anchor="middle">4</text>
<line x1="180.8" y1="480" x2="180.8" y2="484" stroke="#333333" stroke-width="1.4"/>
<text x="180.8" y="494.8" font-size="11.1" fill="#444" stroke="#444" text-anchor="middle">5</text>
<line x1="202.3" y1="480" x2="202.3" y2="484" stroke="#333333" stroke-width="1.4"/>
<text x="202.3" y="494.8" font-size="11.1" fill="#444" stroke="#444" text-anchor="middle">0</text>
<line x1="231.4" y1="480" x2="231.4" y2="484" stroke="#333333" stroke-width="1.4"/>
<text x="231.4" y="494.8" font-size="11.1" fill="#444" stroke="#444" text-anchor="middle">1</text>
<line x1="260.5" y1="480" x2="260.5" y2="484" stroke="#333333" stroke-width="1.4"/>
<text x="260.5" y="494.8" font-size="11.1" fill="#444" stroke="#444" text-anchor="middle">2</text>
<line x1="289.6" y1="480" x2="289.6" y2="484" stroke="#333333" stroke-width="1.4"/>
<text x="289.6" y="494.8" font-size="11.1" fill="#444" stroke="#444" text-anchor="middle">3</text>
<line x1="318.7" y1="480" x2="318.7" y2="484" stroke="#333333" stroke-width="1.4"/>
<text x="318.7" y="494.8" font-size="11.1" fill="#444" stroke="#444" text-anchor="middle">4</text>
<line x1="347.8" y1="480" x2="347.8" y2="484" stroke="#333333" stroke-width="1.4"/>
<text x="347.8" y="494.8" font-size="11.1" fill="#444" stroke="#444" text-anchor="middle">5</text>
<line x1="368.9" y1="480" x2="368.9" y2="484" stroke="#333333" stroke-width="1.4"/>
<text x="368.9" y="494.8" font-size="11.1" fill="#444" stroke="#444" text-anchor="middle">0</text>
<line x1="398" y1="480" x2="398" y2="484" stroke="#333333" stroke-width="1.4"/>
<text x="398" y="494.8" font-size="11.1" fill="#444" stroke="#444" text-anchor="middle">1</text>
<line x1="427.1" y1="480" x2="427.1" y2="484" stroke="#333333" stroke-width="1.4"/>
<text x="427.1" y="494.8" font-size="11.1" fill="#444" stroke="#444" text-anchor="middle">2</text>
<line x1="456.2" y1="480" x2="456.2" y2="484" stroke="#333333" stroke-width="1.4"/>
<text x="456.2" y="494.8" font-size="11.1" fill="#444" stroke="#444" text-anchor="middle">3</text>
<line x1="485.3" y1="480" x2="485.3" y2="484" stroke="#333333" stroke-width="1.4"/>
<text x="485.3" y="494.8" font-size="11.1" fill="#444" stroke="#444" text-anchor="middle">4</text>
<line x1="514.4" y1="480" x2="514.4" y2="484" stroke="#333333" stroke-width="1.4"/>
<text x="514.4" y="494.8" font-size="11.1" fill="#444" stroke="#444" text-anchor="middle">5</text>
<text x="275.3" y="514.4" font-size="17.9" fill="#000" stroke="#000" text-anchor="middle">Effect size</text>
<text x="569.5" y="155.9" font-size="13.9" fill="#000" stroke="#000">Method</text>
<line x1="571.2" y1="174.8" x2="589" y2="174.8" stroke="#A6CEE3" stroke-width="2.1" stroke-dasharray="7 7"/>
<rect x="576.95" y="171.65" width="6.3" height="6.3" stroke="#A6CEE3" stroke-width="1.05" fill="none" stroke-linecap="round"/>
<text x="598.5" y="178.9" font-size="11.5" fill="#000" stroke="#000"><tspan font-style="italic">t</tspan>−test</text>
<line x1="571.2" y1="197" x2="589" y2="197" stroke="#1F78B4" stroke-width="2.1" stroke-dasharray="7 7"/>
<circle cx="580.1" cy="197" r="3.15" stroke="#1F78B4" stroke-width="1.05" fill="none" stroke-linecap="round"/>
<text x="598.5" y="201.1" font-size="11.5" fill="#000" stroke="#000">DESeq2</text>
<line x1="571.2" y1="219.2" x2="589" y2="219.2" stroke="#B2DF8A" stroke-width="2.1" stroke-dasharray="7 7"/>
<polygon points="580.1,214.3 584.34,221.65 575.86,221.65" stroke="#B2DF8A" stroke-width="1.05" fill="none" stroke-linecap="round"/>
<text x="598.5" y="223.3" font-size="11.5" fill="#000" stroke="#000">edgeR</text>
<line x1="571.2" y1="241.4" x2="589" y2="241.4" stroke="#33A02C" stroke-width="2.1" stroke-dasharray="7 7"/>
<path d="M575.65 241.4H584.55M580.1 236.95V245.85" stroke="#33A02C" stroke-width="1.05" fill="none" stroke-linecap="round"/>
<text x="598.5" y="245.5" font-size="11.5" fill="#000" stroke="#000">metagenomeSeq</text>
<line x1="571.2" y1="263.6" x2="589" y2="263.6" stroke="#FB9A99" stroke-width="2.1" stroke-dasharray="7 7"/>
<path d="M576.95 260.45L583.25 266.75M576.95 266.75L583.25 260.45" stroke="#FB9A99" stroke-width="1.05" fill="none" stroke-linecap="round"/>
<text x="598.5" y="267.7" font-size="11.5" fill="#000" stroke="#000">PPCA−NB−cov</text>
<line x1="571.2" y1="285.8" x2="589" y2="285.8" stroke="#FDBF6F" stroke-width="2.1" stroke-dasharray="7 7"/>
<polygon points="575.65,285.8 580.1,281.35 584.55,285.8 580.1,290.25" stroke="#FDBF6F" stroke-width="1.05" fill="none" stroke-linecap="round"/>
<text x="598.5" y="289.9" font-size="11.5" fill="#000" stroke="#000">mbImpute</text>
<line x1="571.2" y1="308" x2="589" y2="308" stroke="#FF7F00" stroke-width="2.1" stroke-dasharray="7 7"/>
<polygon points="580.1,312.9 584.34,305.55 575.86,305.55" stroke="#FF7F00" stroke-width="1.05" fill="none" stroke-linecap="round"/>
<text x="598.5" y="312.1" font-size="11.5" fill="#000" stroke="#000">SAVER</text>
<line x1="571.2" y1="330.2" x2="589" y2="330.2" stroke="#CAB2D6" stroke-width="2.1" stroke-dasharray="7 7"/>
<path d="M576.95 327.05L583.25 333.35M576.95 333.35L583.25 327.05" stroke="#CAB2D6" stroke-width="1.05" fill="none" stroke-linecap="round"/><rect x="576.95" y="327.05" width="6.3" height="6.3" stroke="#CAB2D6" stroke-width="1.05" fill="none" stroke-linecap="round"/>
<text x="598.5" y="334.3" font-size="11.5" fill="#000" stroke="#000">mbDenoise−zip−cov</text>
<line x1="571.2" y1="352.4" x2="589" y2="352.4" stroke="#E31A1C" stroke-width="2.1" stroke-dasharray="7 7"/>
<path d="M576.95 349.25L583.25 355.55M576.95 355.55L583.25 349.25M575.65 352.4H584.55M580.1 347.95V356.85" stroke="#E31A1C" stroke-width="1.05" fill="none" stroke-linecap="round"/>
<text x="598.5" y="356.5" font-size="11.5" fill="#000" stroke="#000">mbDenoise−zinb−cov</text>
</svg></body></html>
